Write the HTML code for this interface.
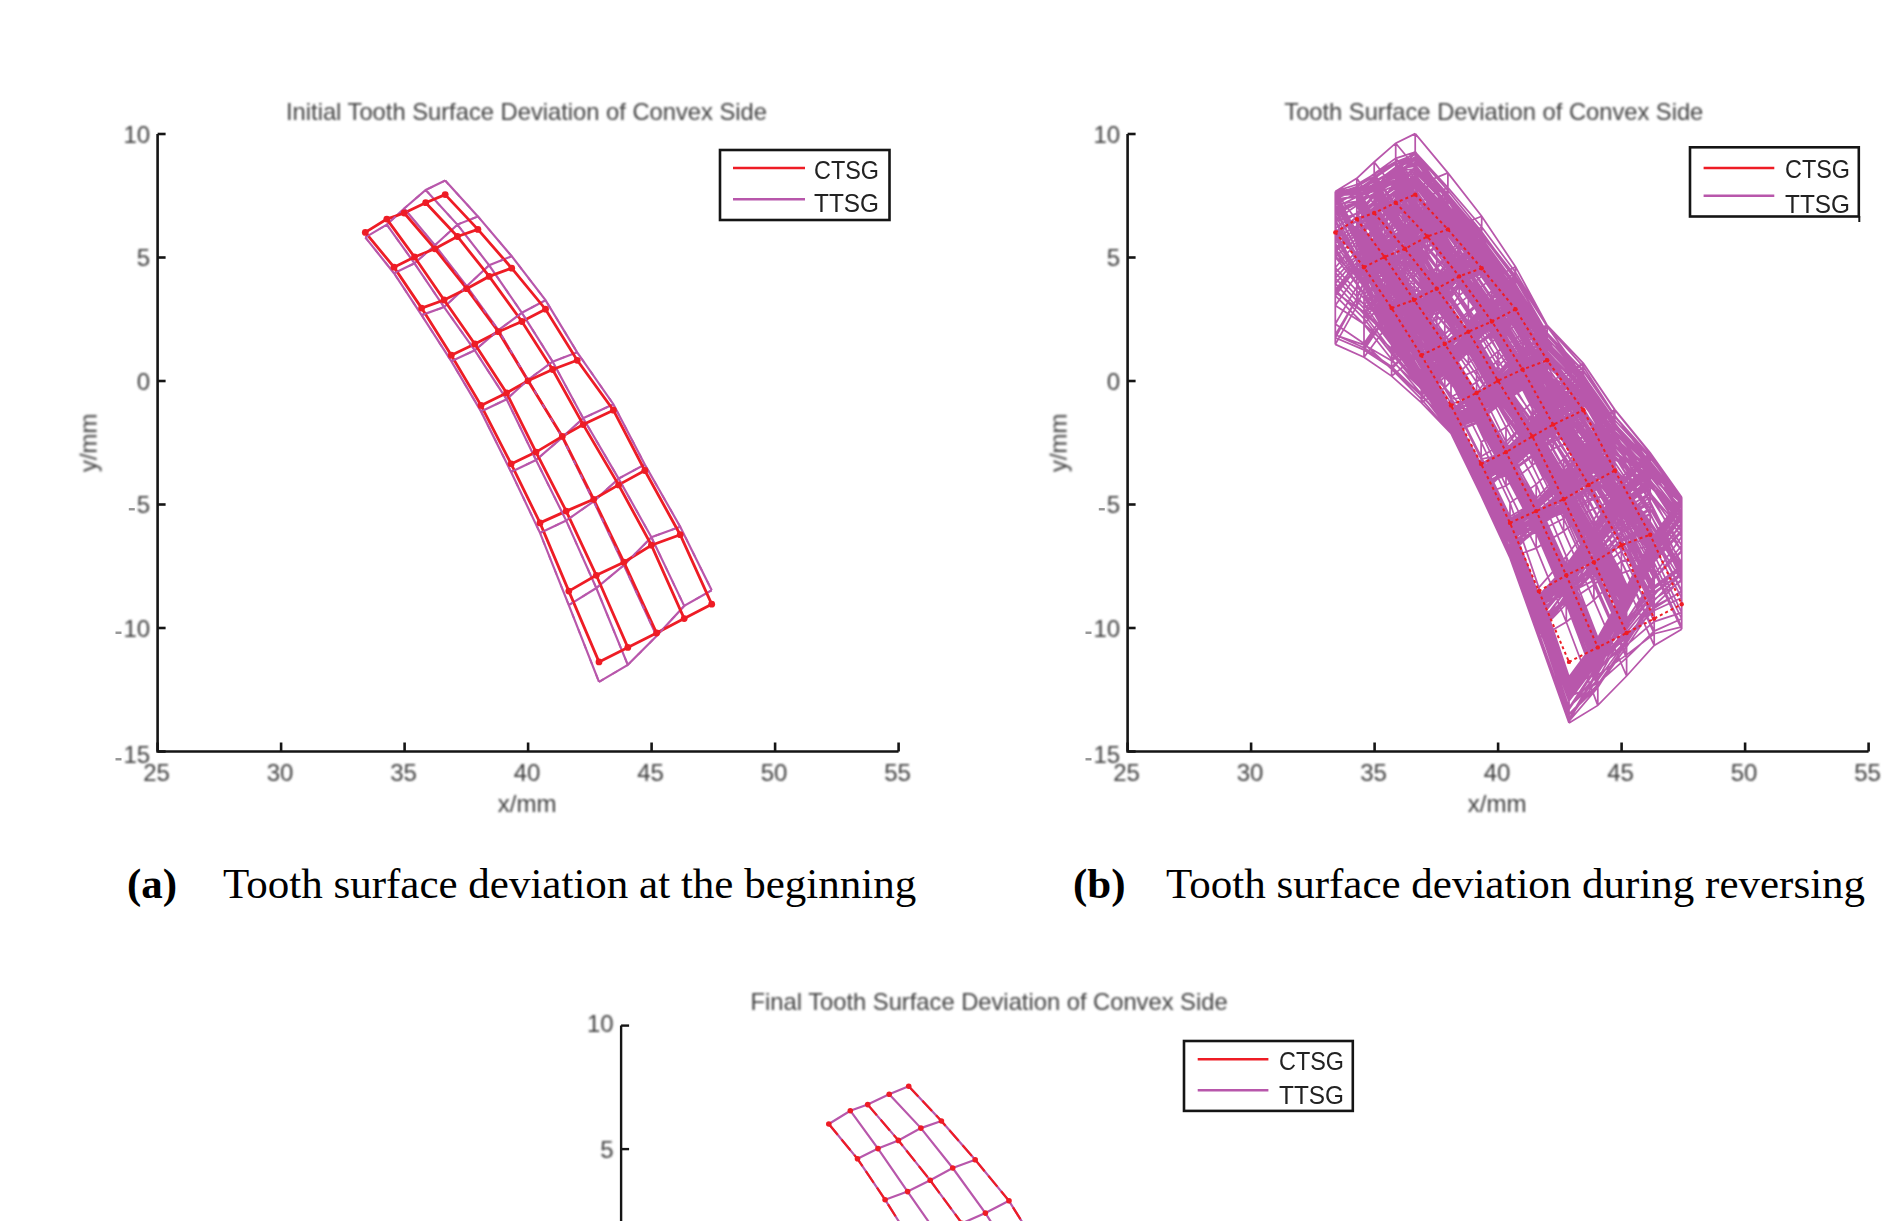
<!DOCTYPE html>
<html><head><meta charset="utf-8"><title>Tooth surface deviation</title>
<style>
html,body{margin:0;padding:0;background:#fff;}
body{width:1893px;height:1221px;overflow:hidden;position:relative;}
svg{position:absolute;left:0;top:0;}
.tk{font-family:"Liberation Sans",sans-serif;font-size:24px;fill:#3c3c3c;}
.ti{font-family:"Liberation Sans",sans-serif;font-size:24px;fill:#404040;}
.lg{font-family:"Liberation Sans",sans-serif;font-size:25px;fill:#222;}
.cap{position:absolute;font-family:"Liberation Serif",serif;font-size:43px;color:#000;white-space:nowrap;line-height:1;}
.cap b{font-weight:bold;}
</style></head>
<body>
<svg width="1893" height="1221" viewBox="0 0 1893 1221">
<defs><filter id="bl" x="-5%" y="-30%" width="110%" height="160%"><feGaussianBlur stdDeviation="0.8"/></filter><filter id="bl2" x="-5%" y="-30%" width="110%" height="160%"><feGaussianBlur stdDeviation="0.4"/></filter></defs>
<path d="M157.6,134.0 L157.6,751.5 L898.6,751.5" fill="none" stroke="#151515" stroke-width="2.6"/>
<line x1="157.6" y1="134.0" x2="165.6" y2="134.0" stroke="#151515" stroke-width="2.6"/>
<line x1="157.6" y1="257.5" x2="165.6" y2="257.5" stroke="#151515" stroke-width="2.6"/>
<line x1="157.6" y1="381.0" x2="165.6" y2="381.0" stroke="#151515" stroke-width="2.6"/>
<line x1="157.6" y1="504.5" x2="165.6" y2="504.5" stroke="#151515" stroke-width="2.6"/>
<line x1="157.6" y1="628.0" x2="165.6" y2="628.0" stroke="#151515" stroke-width="2.6"/>
<line x1="157.6" y1="751.5" x2="165.6" y2="751.5" stroke="#151515" stroke-width="2.6"/>
<line x1="157.6" y1="751.5" x2="157.6" y2="742.5" stroke="#151515" stroke-width="2.6"/>
<line x1="281.1" y1="751.5" x2="281.1" y2="742.5" stroke="#151515" stroke-width="2.6"/>
<line x1="404.6" y1="751.5" x2="404.6" y2="742.5" stroke="#151515" stroke-width="2.6"/>
<line x1="528.1" y1="751.5" x2="528.1" y2="742.5" stroke="#151515" stroke-width="2.6"/>
<line x1="651.6" y1="751.5" x2="651.6" y2="742.5" stroke="#151515" stroke-width="2.6"/>
<line x1="775.1" y1="751.5" x2="775.1" y2="742.5" stroke="#151515" stroke-width="2.6"/>
<line x1="898.6" y1="751.5" x2="898.6" y2="742.5" stroke="#151515" stroke-width="2.6"/>
<text x="150.1" y="142.5" text-anchor="end" class="tk" filter="url(#bl)">10</text>
<text x="150.1" y="266.0" text-anchor="end" class="tk" filter="url(#bl)">5</text>
<text x="150.1" y="389.5" text-anchor="end" class="tk" filter="url(#bl)">0</text>
<text x="150.1" y="513.0" text-anchor="end" class="tk" filter="url(#bl)">5</text>
<rect x="128.8" y="508.0" width="6" height="2.5" fill="#999"/>
<text x="150.1" y="636.5" text-anchor="end" class="tk" filter="url(#bl)">10</text>
<rect x="115.5" y="631.5" width="6" height="2.5" fill="#999"/>
<text x="150.1" y="763.0" text-anchor="end" class="tk" filter="url(#bl)">15</text>
<rect x="115.5" y="758.0" width="6" height="2.5" fill="#999"/>
<text x="156.6" y="781.0" text-anchor="middle" class="tk" filter="url(#bl)">25</text>
<text x="280.1" y="781.0" text-anchor="middle" class="tk" filter="url(#bl)">30</text>
<text x="403.6" y="781.0" text-anchor="middle" class="tk" filter="url(#bl)">35</text>
<text x="527.1" y="781.0" text-anchor="middle" class="tk" filter="url(#bl)">40</text>
<text x="650.6" y="781.0" text-anchor="middle" class="tk" filter="url(#bl)">45</text>
<text x="774.1" y="781.0" text-anchor="middle" class="tk" filter="url(#bl)">50</text>
<text x="897.6" y="781.0" text-anchor="middle" class="tk" filter="url(#bl)">55</text>
<text x="527.1" y="812.0" text-anchor="middle" class="tk" filter="url(#bl)">x/mm</text>
<text x="0" y="0" transform="translate(96.6,442.8) rotate(-90)" text-anchor="middle" class="tk" filter="url(#bl)">y/mm</text>
<text x="286" y="119.7" class="ti" filter="url(#bl)" textLength="481" lengthAdjust="spacingAndGlyphs">Initial Tooth Surface Deviation of Convex Side</text>
<path d="M365.3,237.4 L386.8,224.6 L404.2,208.5 L425.7,190.0 L445.2,180.6 M394.0,273.2 L414.5,263.3 L434.9,245.3 L457.4,224.6 L477.9,216.4 M421.6,315.1 L444.1,307.1 L466.7,286.2 L489.2,265.3 L511.7,256.2 M451.3,361.2 L474.8,350.3 L498.4,330.2 L521.9,312.8 L545.5,300.2 M481.0,411.4 L506.6,399.3 L528.0,379.8 L552.6,361.6 L577.2,352.3 M511.1,471.9 L536.0,460.0 L562.3,437.4 L583.2,418.3 L613.4,404.2 M540.0,532.9 L566.2,520.6 L593.7,501.3 L618.6,478.6 L644.8,464.5 M568.8,605.1 L596.3,588.0 L623.9,565.2 L651.4,537.3 L680.2,526.7 M599.0,681.9 L627.8,664.9 L656.6,636.0 L684.2,605.9 L711.7,590.2 M365.3,237.4 L394.0,273.2 L421.6,315.1 L451.3,361.2 L481.0,411.4 L511.1,471.9 L540.0,532.9 L568.8,605.1 L599.0,681.9 M386.8,224.6 L414.5,263.3 L444.1,307.1 L474.8,350.3 L506.6,399.3 L536.0,460.0 L566.2,520.6 L596.3,588.0 L627.8,664.9 M404.2,208.5 L434.9,245.3 L466.7,286.2 L498.4,330.2 L528.0,379.8 L562.3,437.4 L593.7,501.3 L623.9,565.2 L656.6,636.0 M425.7,190.0 L457.4,224.6 L489.2,265.3 L521.9,312.8 L552.6,361.6 L583.2,418.3 L618.6,478.6 L651.4,537.3 L684.2,605.9 M445.2,180.6 L477.9,216.4 L511.7,256.2 L545.5,300.2 L577.2,352.3 L613.4,404.2 L644.8,464.5 L680.2,526.7 L711.7,590.2" fill="none" stroke="#b857ab" stroke-width="2.2"/>
<path d="M365.3,232.4 L386.8,219.1 L404.2,213.0 L425.7,202.7 L445.2,194.6 M394.0,267.2 L414.5,257.0 L434.9,248.8 L457.4,236.5 L477.9,229.4 M421.6,308.1 L444.1,300.0 L466.7,288.7 L489.2,276.4 L511.7,268.2 M451.3,355.2 L474.8,344.0 L498.4,331.7 L521.9,321.5 L545.5,309.2 M481.0,405.4 L506.6,393.0 L528.0,380.8 L552.6,369.5 L577.2,360.3 M511.1,463.9 L536.0,452.1 L562.3,436.4 L583.2,424.6 L613.4,410.2 M540.0,522.9 L566.2,511.1 L593.7,499.3 L618.6,484.9 L644.8,470.5 M568.8,591.1 L596.3,575.3 L623.9,562.2 L651.4,545.2 L680.2,534.7 M599.0,661.9 L627.8,647.4 L656.6,633.0 L684.2,618.6 L711.7,604.2 M365.3,232.4 L394.0,267.2 L421.6,308.1 L451.3,355.2 L481.0,405.4 L511.1,463.9 L540.0,522.9 L568.8,591.1 L599.0,661.9 M386.8,219.1 L414.5,257.0 L444.1,300.0 L474.8,344.0 L506.6,393.0 L536.0,452.1 L566.2,511.1 L596.3,575.3 L627.8,647.4 M404.2,213.0 L434.9,248.8 L466.7,288.7 L498.4,331.7 L528.0,380.8 L562.3,436.4 L593.7,499.3 L623.9,562.2 L656.6,633.0 M425.7,202.7 L457.4,236.5 L489.2,276.4 L521.9,321.5 L552.6,369.5 L583.2,424.6 L618.6,484.9 L651.4,545.2 L684.2,618.6 M445.2,194.6 L477.9,229.4 L511.7,268.2 L545.5,309.2 L577.2,360.3 L613.4,410.2 L644.8,470.5 L680.2,534.7 L711.7,604.2" fill="none" stroke="#ee1c25" stroke-width="2.8"/>
<path d="M365.3,237.4 L386.8,224.6 L404.2,208.5 L425.7,190.0 L445.2,180.6 M394.0,273.2 L414.5,263.3 L434.9,245.3 L457.4,224.6 L477.9,216.4 M421.6,315.1 L444.1,307.1 L466.7,286.2 L489.2,265.3 L511.7,256.2 M451.3,361.2 L474.8,350.3 L498.4,330.2 L521.9,312.8 L545.5,300.2 M481.0,411.4 L506.6,399.3 L528.0,379.8 L552.6,361.6 L577.2,352.3 M511.1,471.9 L536.0,460.0 L562.3,437.4 L583.2,418.3 L613.4,404.2 M540.0,532.9 L566.2,520.6 L593.7,501.3 L618.6,478.6 L644.8,464.5 M568.8,605.1 L596.3,588.0 L623.9,565.2 L651.4,537.3 L680.2,526.7 M599.0,681.9 L627.8,664.9 L656.6,636.0 L684.2,605.9 L711.7,590.2 M365.3,237.4 L394.0,273.2 L421.6,315.1 L451.3,361.2 L481.0,411.4 L511.1,471.9 L540.0,532.9 L568.8,605.1 L599.0,681.9 M386.8,224.6 L414.5,263.3 L444.1,307.1 L474.8,350.3 L506.6,399.3 L536.0,460.0 L566.2,520.6 L596.3,588.0 L627.8,664.9 M404.2,208.5 L434.9,245.3 L466.7,286.2 L498.4,330.2 L528.0,379.8 L562.3,437.4 L593.7,501.3 L623.9,565.2 L656.6,636.0 M425.7,190.0 L457.4,224.6 L489.2,265.3 L521.9,312.8 L552.6,361.6 L583.2,418.3 L618.6,478.6 L651.4,537.3 L684.2,605.9 M445.2,180.6 L477.9,216.4 L511.7,256.2 L545.5,300.2 L577.2,352.3 L613.4,404.2 L644.8,464.5 L680.2,526.7 L711.7,590.2" fill="none" stroke="#b857ab" stroke-width="1.8" stroke-dasharray="5 11"/>
<circle cx="365.3" cy="232.4" r="3.4" fill="#ee1c25"/><circle cx="386.8" cy="219.1" r="3.4" fill="#ee1c25"/><circle cx="404.2" cy="213.0" r="3.4" fill="#ee1c25"/><circle cx="425.7" cy="202.7" r="3.4" fill="#ee1c25"/><circle cx="445.2" cy="194.6" r="3.4" fill="#ee1c25"/><circle cx="394.0" cy="267.2" r="3.4" fill="#ee1c25"/><circle cx="414.5" cy="257.0" r="3.4" fill="#ee1c25"/><circle cx="434.9" cy="248.8" r="3.4" fill="#ee1c25"/><circle cx="457.4" cy="236.5" r="3.4" fill="#ee1c25"/><circle cx="477.9" cy="229.4" r="3.4" fill="#ee1c25"/><circle cx="421.6" cy="308.1" r="3.4" fill="#ee1c25"/><circle cx="444.1" cy="300.0" r="3.4" fill="#ee1c25"/><circle cx="466.7" cy="288.7" r="3.4" fill="#ee1c25"/><circle cx="489.2" cy="276.4" r="3.4" fill="#ee1c25"/><circle cx="511.7" cy="268.2" r="3.4" fill="#ee1c25"/><circle cx="451.3" cy="355.2" r="3.4" fill="#ee1c25"/><circle cx="474.8" cy="344.0" r="3.4" fill="#ee1c25"/><circle cx="498.4" cy="331.7" r="3.4" fill="#ee1c25"/><circle cx="521.9" cy="321.5" r="3.4" fill="#ee1c25"/><circle cx="545.5" cy="309.2" r="3.4" fill="#ee1c25"/><circle cx="481.0" cy="405.4" r="3.4" fill="#ee1c25"/><circle cx="506.6" cy="393.0" r="3.4" fill="#ee1c25"/><circle cx="528.0" cy="380.8" r="3.4" fill="#ee1c25"/><circle cx="552.6" cy="369.5" r="3.4" fill="#ee1c25"/><circle cx="577.2" cy="360.3" r="3.4" fill="#ee1c25"/><circle cx="511.1" cy="463.9" r="3.4" fill="#ee1c25"/><circle cx="536.0" cy="452.1" r="3.4" fill="#ee1c25"/><circle cx="562.3" cy="436.4" r="3.4" fill="#ee1c25"/><circle cx="583.2" cy="424.6" r="3.4" fill="#ee1c25"/><circle cx="613.4" cy="410.2" r="3.4" fill="#ee1c25"/><circle cx="540.0" cy="522.9" r="3.4" fill="#ee1c25"/><circle cx="566.2" cy="511.1" r="3.4" fill="#ee1c25"/><circle cx="593.7" cy="499.3" r="3.4" fill="#ee1c25"/><circle cx="618.6" cy="484.9" r="3.4" fill="#ee1c25"/><circle cx="644.8" cy="470.5" r="3.4" fill="#ee1c25"/><circle cx="568.8" cy="591.1" r="3.4" fill="#ee1c25"/><circle cx="596.3" cy="575.3" r="3.4" fill="#ee1c25"/><circle cx="623.9" cy="562.2" r="3.4" fill="#ee1c25"/><circle cx="651.4" cy="545.2" r="3.4" fill="#ee1c25"/><circle cx="680.2" cy="534.7" r="3.4" fill="#ee1c25"/><circle cx="599.0" cy="661.9" r="3.4" fill="#ee1c25"/><circle cx="627.8" cy="647.4" r="3.4" fill="#ee1c25"/><circle cx="656.6" cy="633.0" r="3.4" fill="#ee1c25"/><circle cx="684.2" cy="618.6" r="3.4" fill="#ee1c25"/><circle cx="711.7" cy="604.2" r="3.4" fill="#ee1c25"/>
<rect x="720.0" y="150.0" width="169.5" height="70.0" fill="#fff" stroke="#151515" stroke-width="2.6"/>
<line x1="733" y1="168" x2="805" y2="168" stroke="#ee1c25" stroke-width="2.5"/>
<line x1="733" y1="199.2" x2="805" y2="199.2" stroke="#b857ab" stroke-width="2.5"/>
<text x="814" y="178.6" class="lg" filter="url(#bl2)" textLength="65" lengthAdjust="spacingAndGlyphs">CTSG</text>
<text x="814" y="212.4" class="lg" filter="url(#bl2)" textLength="65" lengthAdjust="spacingAndGlyphs">TTSG</text>
<path d="M1127.6,134.0 L1127.6,751.5 L1868.6,751.5" fill="none" stroke="#151515" stroke-width="2.6"/>
<line x1="1127.6" y1="134.0" x2="1135.6" y2="134.0" stroke="#151515" stroke-width="2.6"/>
<line x1="1127.6" y1="257.5" x2="1135.6" y2="257.5" stroke="#151515" stroke-width="2.6"/>
<line x1="1127.6" y1="381.0" x2="1135.6" y2="381.0" stroke="#151515" stroke-width="2.6"/>
<line x1="1127.6" y1="504.5" x2="1135.6" y2="504.5" stroke="#151515" stroke-width="2.6"/>
<line x1="1127.6" y1="628.0" x2="1135.6" y2="628.0" stroke="#151515" stroke-width="2.6"/>
<line x1="1127.6" y1="751.5" x2="1135.6" y2="751.5" stroke="#151515" stroke-width="2.6"/>
<line x1="1127.6" y1="751.5" x2="1127.6" y2="742.5" stroke="#151515" stroke-width="2.6"/>
<line x1="1251.1" y1="751.5" x2="1251.1" y2="742.5" stroke="#151515" stroke-width="2.6"/>
<line x1="1374.6" y1="751.5" x2="1374.6" y2="742.5" stroke="#151515" stroke-width="2.6"/>
<line x1="1498.1" y1="751.5" x2="1498.1" y2="742.5" stroke="#151515" stroke-width="2.6"/>
<line x1="1621.6" y1="751.5" x2="1621.6" y2="742.5" stroke="#151515" stroke-width="2.6"/>
<line x1="1745.1" y1="751.5" x2="1745.1" y2="742.5" stroke="#151515" stroke-width="2.6"/>
<line x1="1868.6" y1="751.5" x2="1868.6" y2="742.5" stroke="#151515" stroke-width="2.6"/>
<text x="1120.1" y="142.5" text-anchor="end" class="tk" filter="url(#bl)">10</text>
<text x="1120.1" y="266.0" text-anchor="end" class="tk" filter="url(#bl)">5</text>
<text x="1120.1" y="389.5" text-anchor="end" class="tk" filter="url(#bl)">0</text>
<text x="1120.1" y="513.0" text-anchor="end" class="tk" filter="url(#bl)">5</text>
<rect x="1098.8" y="508.0" width="6" height="2.5" fill="#999"/>
<text x="1120.1" y="636.5" text-anchor="end" class="tk" filter="url(#bl)">10</text>
<rect x="1085.5" y="631.5" width="6" height="2.5" fill="#999"/>
<text x="1120.1" y="763.0" text-anchor="end" class="tk" filter="url(#bl)">15</text>
<rect x="1085.5" y="758.0" width="6" height="2.5" fill="#999"/>
<text x="1126.6" y="781.0" text-anchor="middle" class="tk" filter="url(#bl)">25</text>
<text x="1250.1" y="781.0" text-anchor="middle" class="tk" filter="url(#bl)">30</text>
<text x="1373.6" y="781.0" text-anchor="middle" class="tk" filter="url(#bl)">35</text>
<text x="1497.1" y="781.0" text-anchor="middle" class="tk" filter="url(#bl)">40</text>
<text x="1620.6" y="781.0" text-anchor="middle" class="tk" filter="url(#bl)">45</text>
<text x="1744.1" y="781.0" text-anchor="middle" class="tk" filter="url(#bl)">50</text>
<text x="1867.6" y="781.0" text-anchor="middle" class="tk" filter="url(#bl)">55</text>
<text x="1497.1" y="812.0" text-anchor="middle" class="tk" filter="url(#bl)">x/mm</text>
<text x="0" y="0" transform="translate(1066.6,442.8) rotate(-90)" text-anchor="middle" class="tk" filter="url(#bl)">y/mm</text>
<text x="1284.3" y="119.6" class="ti" filter="url(#bl)" textLength="419" lengthAdjust="spacingAndGlyphs">Tooth Surface Deviation of Convex Side</text>
<path d="M1335.3,191.4 L1356.8,178.3 L1374.2,162.0 L1395.7,143.2 L1415.2,133.6 M1364.0,230.2 L1384.5,220.2 L1404.9,202.1 L1427.4,181.2 L1447.9,172.9 M1391.6,275.1 L1414.1,267.1 L1436.7,246.2 L1459.2,225.3 L1481.7,216.2 M1421.3,326.2 L1444.8,315.7 L1468.4,295.9 L1491.9,278.9 L1515.5,266.7 M1451.0,381.4 L1476.6,370.1 L1498.0,351.3 L1522.6,333.9 L1547.2,325.3 M1481.1,441.9 L1506.0,427.2 L1532.3,401.9 L1553.2,380.1 L1583.4,363.2 M1510.0,502.9 L1536.2,484.4 L1563.7,458.8 L1588.6,429.8 L1614.8,409.5 M1538.8,587.6 L1566.3,556.4 L1593.9,519.5 L1621.4,477.4 L1650.2,452.7 M1569.0,676.9 L1597.8,637.9 L1626.6,587.0 L1654.2,534.9 L1681.7,497.2 M1335.3,191.4 L1364.0,230.2 L1391.6,275.1 L1421.3,326.2 L1451.0,381.4 L1481.1,441.9 L1510.0,502.9 L1538.8,587.6 L1569.0,676.9 M1356.8,178.3 L1384.5,220.2 L1414.1,267.1 L1444.8,315.7 L1476.6,370.1 L1506.0,427.2 L1536.2,484.4 L1566.3,556.4 L1597.8,637.9 M1374.2,162.0 L1404.9,202.1 L1436.7,246.2 L1468.4,295.9 L1498.0,351.3 L1532.3,401.9 L1563.7,458.8 L1593.9,519.5 L1626.6,587.0 M1395.7,143.2 L1427.4,181.2 L1459.2,225.3 L1491.9,278.9 L1522.6,333.9 L1553.2,380.1 L1588.6,429.8 L1621.4,477.4 L1654.2,534.9 M1415.2,133.6 L1447.9,172.9 L1481.7,216.2 L1515.5,266.7 L1547.2,325.3 L1583.4,363.2 L1614.8,409.5 L1650.2,452.7 L1681.7,497.2 M1335.3,344.4 L1356.8,306.1 L1374.2,264.5 L1395.7,220.5 L1415.2,185.6 M1364.0,357.2 L1384.5,329.4 L1404.9,293.6 L1427.4,255.0 L1447.9,228.9 M1391.6,376.1 L1414.1,357.9 L1436.7,326.7 L1459.2,295.5 L1481.7,276.2 M1421.3,402.7 L1444.8,387.7 L1468.4,363.4 L1491.9,341.9 L1515.5,325.2 M1451.0,433.4 L1476.6,423.3 L1498.0,405.8 L1522.6,389.6 L1547.2,382.3 M1481.1,495.4 L1506.0,485.8 L1532.3,465.4 L1553.2,448.6 L1583.4,436.7 M1510.0,557.9 L1536.2,548.1 L1563.7,531.3 L1588.6,511.1 L1614.8,499.5 M1538.8,638.1 L1566.3,622.0 L1593.9,600.2 L1621.4,573.3 L1650.2,563.7 M1569.0,722.9 L1597.8,705.4 L1626.6,676.0 L1654.2,645.4 L1681.7,629.2 M1335.3,344.4 L1364.0,357.2 L1391.6,376.1 L1421.3,402.7 L1451.0,433.4 L1481.1,495.4 L1510.0,557.9 L1538.8,638.1 L1569.0,722.9 M1356.8,306.1 L1384.5,329.4 L1414.1,357.9 L1444.8,387.7 L1476.6,423.3 L1506.0,485.8 L1536.2,548.1 L1566.3,622.0 L1597.8,705.4 M1374.2,264.5 L1404.9,293.6 L1436.7,326.7 L1468.4,363.4 L1498.0,405.8 L1532.3,465.4 L1563.7,531.3 L1593.9,600.2 L1626.6,676.0 M1395.7,220.5 L1427.4,255.0 L1459.2,295.5 L1491.9,341.9 L1522.6,389.6 L1553.2,448.6 L1588.6,511.1 L1621.4,573.3 L1654.2,645.4 M1415.2,185.6 L1447.9,228.9 L1481.7,276.2 L1515.5,325.2 L1547.2,382.3 L1583.4,436.7 L1614.8,499.5 L1650.2,563.7 L1681.7,629.2 M1335.3,204.2 L1356.8,193.1 L1374.2,178.8 L1395.7,162.0 L1415.2,154.3 M1364.0,253.0 L1384.5,243.8 L1404.9,226.5 L1427.4,206.5 L1447.9,199.0 M1391.6,308.0 L1414.1,299.6 L1436.7,278.3 L1459.2,257.0 L1481.7,247.6 M1421.3,357.4 L1444.8,347.6 L1468.4,328.6 L1491.9,312.3 L1515.5,300.8 M1451.0,410.9 L1476.6,401.4 L1498.0,384.5 L1522.6,368.8 L1547.2,362.1 M1481.1,470.3 L1506.0,457.2 L1532.3,433.5 L1553.2,413.2 L1583.4,398.0 M1510.0,530.1 L1536.2,513.0 L1563.7,488.8 L1588.6,461.2 L1614.8,442.2 M1538.8,611.0 L1566.3,579.3 L1593.9,542.0 L1621.4,499.5 L1650.2,474.4 M1569.0,696.4 L1597.8,655.2 L1626.6,602.1 L1654.2,547.8 L1681.7,507.9 M1335.3,204.2 L1364.0,253.0 L1391.6,308.0 L1421.3,357.4 L1451.0,410.9 L1481.1,470.3 L1510.0,530.1 L1538.8,611.0 L1569.0,696.4 M1356.8,193.1 L1384.5,243.8 L1414.1,299.6 L1444.8,347.6 L1476.6,401.4 L1506.0,457.2 L1536.2,513.0 L1566.3,579.3 L1597.8,655.2 M1374.2,178.8 L1404.9,226.5 L1436.7,278.3 L1468.4,328.6 L1498.0,384.5 L1532.3,433.5 L1563.7,488.8 L1593.9,542.0 L1626.6,602.1 M1395.7,162.0 L1427.4,206.5 L1459.2,257.0 L1491.9,312.3 L1522.6,368.8 L1553.2,413.2 L1588.6,461.2 L1621.4,499.5 L1654.2,547.8 M1415.2,154.3 L1447.9,199.0 L1481.7,247.6 L1515.5,300.8 L1547.2,362.1 L1583.4,398.0 L1614.8,442.2 L1650.2,474.4 L1681.7,507.9 M1335.3,191.7 L1356.8,188.3 L1374.2,181.6 L1395.7,172.4 L1415.2,172.4 M1364.0,251.0 L1384.5,244.0 L1404.9,228.9 L1427.4,211.1 L1447.9,205.8 M1391.6,316.4 L1414.1,304.8 L1436.7,280.4 L1459.2,255.9 L1481.7,243.2 M1421.3,368.1 L1444.8,351.6 L1468.4,325.9 L1491.9,302.9 L1515.5,284.6 M1451.0,423.8 L1476.6,404.1 L1498.0,376.9 L1522.6,351.1 L1547.2,334.1 M1481.1,474.3 L1506.0,453.6 L1532.3,422.1 L1553.2,394.1 L1583.4,371.2 M1510.0,525.4 L1536.2,503.0 L1563.7,473.6 L1588.6,440.8 L1614.8,416.6 M1538.8,598.9 L1566.3,565.8 L1593.9,526.9 L1621.4,483.0 L1650.2,456.4 M1569.0,677.0 L1597.8,638.0 L1626.6,587.2 L1654.2,535.2 L1681.7,497.5 M1335.3,191.7 L1364.0,251.0 L1391.6,316.4 L1421.3,368.1 L1451.0,423.8 L1481.1,474.3 L1510.0,525.4 L1538.8,598.9 L1569.0,677.0 M1356.8,188.3 L1384.5,244.0 L1414.1,304.8 L1444.8,351.6 L1476.6,404.1 L1506.0,453.6 L1536.2,503.0 L1566.3,565.8 L1597.8,638.0 M1374.2,181.6 L1404.9,228.9 L1436.7,280.4 L1468.4,325.9 L1498.0,376.9 L1532.3,422.1 L1563.7,473.6 L1593.9,526.9 L1626.6,587.2 M1395.7,172.4 L1427.4,211.1 L1459.2,255.9 L1491.9,302.9 L1522.6,351.1 L1553.2,394.1 L1588.6,440.8 L1621.4,483.0 L1654.2,535.2 M1415.2,172.4 L1447.9,205.8 L1481.7,243.2 L1515.5,284.6 L1547.2,334.1 L1583.4,371.2 L1614.8,416.6 L1650.2,456.4 L1681.7,497.5 M1335.3,214.6 L1356.8,203.5 L1374.2,189.0 L1395.7,172.1 L1415.2,164.4 M1364.0,269.5 L1384.5,258.4 L1404.9,239.2 L1427.4,217.4 L1447.9,208.0 M1391.6,330.5 L1414.1,318.5 L1436.7,293.6 L1459.2,268.7 L1481.7,255.6 M1421.3,378.4 L1444.8,364.9 L1468.4,342.2 L1491.9,322.2 L1515.5,307.0 M1451.0,430.5 L1476.6,417.2 L1498.0,396.4 L1522.6,377.0 L1547.2,366.4 M1481.1,479.7 L1506.0,469.7 L1532.3,449.0 L1553.2,431.8 L1583.4,419.7 M1510.0,529.3 L1536.2,522.1 L1563.7,507.9 L1588.6,490.3 L1614.8,481.3 M1538.8,601.2 L1566.3,589.9 L1593.9,573.0 L1621.4,551.0 L1650.2,546.3 M1569.0,677.6 L1597.8,667.3 L1626.6,645.1 L1654.2,621.6 L1681.7,612.6 M1335.3,214.6 L1364.0,269.5 L1391.6,330.5 L1421.3,378.4 L1451.0,430.5 L1481.1,479.7 L1510.0,529.3 L1538.8,601.2 L1569.0,677.6 M1356.8,203.5 L1384.5,258.4 L1414.1,318.5 L1444.8,364.9 L1476.6,417.2 L1506.0,469.7 L1536.2,522.1 L1566.3,589.9 L1597.8,667.3 M1374.2,189.0 L1404.9,239.2 L1436.7,293.6 L1468.4,342.2 L1498.0,396.4 L1532.3,449.0 L1563.7,507.9 L1593.9,573.0 L1626.6,645.1 M1395.7,172.1 L1427.4,217.4 L1459.2,268.7 L1491.9,322.2 L1522.6,377.0 L1553.2,431.8 L1588.6,490.3 L1621.4,551.0 L1654.2,621.6 M1415.2,164.4 L1447.9,208.0 L1481.7,255.6 L1515.5,307.0 L1547.2,366.4 L1583.4,419.7 L1614.8,481.3 L1650.2,546.3 L1681.7,612.6 M1335.3,237.1 L1356.8,217.0 L1374.2,193.7 L1395.7,168.0 L1415.2,151.4 M1364.0,279.7 L1384.5,264.2 L1404.9,240.5 L1427.4,214.2 L1447.9,200.4 M1391.6,328.4 L1414.1,316.4 L1436.7,291.5 L1459.2,266.5 L1481.7,253.4 M1421.3,372.6 L1444.8,361.5 L1468.4,341.2 L1491.9,323.7 L1515.5,310.9 M1451.0,420.8 L1476.6,412.4 L1498.0,396.6 L1522.6,382.1 L1547.2,376.5 M1481.1,485.1 L1506.0,471.4 L1532.3,446.9 L1553.2,426.0 L1583.4,410.0 M1510.0,549.9 L1536.2,530.3 L1563.7,503.6 L1588.6,473.5 L1614.8,452.0 M1538.8,633.0 L1566.3,596.5 L1593.9,554.3 L1621.4,506.9 L1650.2,476.9 M1569.0,720.7 L1597.8,672.3 L1626.6,611.9 L1654.2,550.3 L1681.7,503.2 M1335.3,237.1 L1364.0,279.7 L1391.6,328.4 L1421.3,372.6 L1451.0,420.8 L1481.1,485.1 L1510.0,549.9 L1538.8,633.0 L1569.0,720.7 M1356.8,217.0 L1384.5,264.2 L1414.1,316.4 L1444.8,361.5 L1476.6,412.4 L1506.0,471.4 L1536.2,530.3 L1566.3,596.5 L1597.8,672.3 M1374.2,193.7 L1404.9,240.5 L1436.7,291.5 L1468.4,341.2 L1498.0,396.6 L1532.3,446.9 L1563.7,503.6 L1593.9,554.3 L1626.6,611.9 M1395.7,168.0 L1427.4,214.2 L1459.2,266.5 L1491.9,323.7 L1522.6,382.1 L1553.2,426.0 L1588.6,473.5 L1621.4,506.9 L1654.2,550.3 M1415.2,151.4 L1447.9,200.4 L1481.7,253.4 L1515.5,310.9 L1547.2,376.5 L1583.4,410.0 L1614.8,452.0 L1650.2,476.9 L1681.7,503.2 M1335.3,193.6 L1356.8,192.1 L1374.2,187.3 L1395.7,180.1 L1415.2,182.0 M1364.0,244.9 L1384.5,241.9 L1404.9,230.8 L1427.4,216.9 L1447.9,215.6 M1391.6,302.4 L1414.1,296.8 L1436.7,278.3 L1459.2,259.9 L1481.7,253.2 M1421.3,353.5 L1444.8,343.0 L1468.4,323.2 L1491.9,306.1 L1515.5,293.8 M1451.0,408.8 L1476.6,394.9 L1498.0,373.6 L1522.6,353.6 L1547.2,342.5 M1481.1,464.1 L1506.0,449.2 L1532.3,423.6 L1553.2,401.5 L1583.4,384.4 M1510.0,520.0 L1536.2,503.5 L1563.7,479.9 L1588.6,453.0 L1614.8,434.7 M1538.8,598.3 L1566.3,571.8 L1593.9,539.6 L1621.4,502.3 L1650.2,482.3 M1569.0,681.3 L1597.8,649.7 L1626.6,606.2 L1654.2,561.5 L1681.7,531.3 M1335.3,193.6 L1364.0,244.9 L1391.6,302.4 L1421.3,353.5 L1451.0,408.8 L1481.1,464.1 L1510.0,520.0 L1538.8,598.3 L1569.0,681.3 M1356.8,192.1 L1384.5,241.9 L1414.1,296.8 L1444.8,343.0 L1476.6,394.9 L1506.0,449.2 L1536.2,503.5 L1566.3,571.8 L1597.8,649.7 M1374.2,187.3 L1404.9,230.8 L1436.7,278.3 L1468.4,323.2 L1498.0,373.6 L1532.3,423.6 L1563.7,479.9 L1593.9,539.6 L1626.6,606.2 M1395.7,180.1 L1427.4,216.9 L1459.2,259.9 L1491.9,306.1 L1522.6,353.6 L1553.2,401.5 L1588.6,453.0 L1621.4,502.3 L1654.2,561.5 M1415.2,182.0 L1447.9,215.6 L1481.7,253.2 L1515.5,293.8 L1547.2,342.5 L1583.4,384.4 L1614.8,434.7 L1650.2,482.3 L1681.7,531.3 M1335.3,248.5 L1356.8,226.1 L1374.2,200.4 L1395.7,172.3 L1415.2,153.3 M1364.0,287.0 L1384.5,267.1 L1404.9,239.2 L1427.4,208.6 L1447.9,190.5 M1391.6,331.5 L1414.1,313.3 L1436.7,282.2 L1459.2,251.1 L1481.7,231.8 M1421.3,373.7 L1444.8,354.3 L1468.4,325.6 L1491.9,299.6 L1515.5,278.4 M1451.0,420.1 L1476.6,401.0 L1498.0,374.6 L1522.6,349.5 L1547.2,333.2 M1481.1,475.6 L1506.0,454.4 L1532.3,422.5 L1553.2,394.1 L1583.4,370.7 M1510.0,531.6 L1536.2,507.7 L1563.7,476.7 L1588.6,442.4 L1614.8,416.6 M1538.8,608.8 L1566.3,573.5 L1593.9,532.5 L1621.4,486.4 L1650.2,457.5 M1569.0,690.7 L1597.8,648.9 L1626.6,595.2 L1654.2,540.3 L1681.7,499.7 M1335.3,248.5 L1364.0,287.0 L1391.6,331.5 L1421.3,373.7 L1451.0,420.1 L1481.1,475.6 L1510.0,531.6 L1538.8,608.8 L1569.0,690.7 M1356.8,226.1 L1384.5,267.1 L1414.1,313.3 L1444.8,354.3 L1476.6,401.0 L1506.0,454.4 L1536.2,507.7 L1566.3,573.5 L1597.8,648.9 M1374.2,200.4 L1404.9,239.2 L1436.7,282.2 L1468.4,325.6 L1498.0,374.6 L1532.3,422.5 L1563.7,476.7 L1593.9,532.5 L1626.6,595.2 M1395.7,172.3 L1427.4,208.6 L1459.2,251.1 L1491.9,299.6 L1522.6,349.5 L1553.2,394.1 L1588.6,442.4 L1621.4,486.4 L1654.2,540.3 M1415.2,153.3 L1447.9,190.5 L1481.7,231.8 L1515.5,278.4 L1547.2,333.2 L1583.4,370.7 L1614.8,416.6 L1650.2,457.5 L1681.7,499.7 M1335.3,257.0 L1356.8,238.3 L1374.2,216.3 L1395.7,192.0 L1415.2,176.7 M1364.0,293.4 L1384.5,278.2 L1404.9,254.9 L1427.4,229.0 L1447.9,215.5 M1391.6,335.9 L1414.1,323.2 L1436.7,297.6 L1459.2,272.1 L1481.7,258.3 M1421.3,376.7 L1444.8,362.9 L1468.4,339.9 L1491.9,319.6 L1515.5,304.1 M1451.0,421.7 L1476.6,408.5 L1498.0,387.8 L1522.6,368.5 L1547.2,358.1 M1481.1,474.1 L1506.0,459.0 L1532.3,433.2 L1553.2,410.9 L1583.4,393.6 M1510.0,526.9 L1536.2,509.4 L1563.7,484.8 L1588.6,456.9 L1614.8,437.6 M1538.8,601.9 L1566.3,571.4 L1593.9,535.2 L1621.4,494.0 L1650.2,470.0 M1569.0,681.4 L1597.8,642.9 L1626.6,592.5 L1654.2,540.9 L1681.7,503.7 M1335.3,257.0 L1364.0,293.4 L1391.6,335.9 L1421.3,376.7 L1451.0,421.7 L1481.1,474.1 L1510.0,526.9 L1538.8,601.9 L1569.0,681.4 M1356.8,238.3 L1384.5,278.2 L1414.1,323.2 L1444.8,362.9 L1476.6,408.5 L1506.0,459.0 L1536.2,509.4 L1566.3,571.4 L1597.8,642.9 M1374.2,216.3 L1404.9,254.9 L1436.7,297.6 L1468.4,339.9 L1498.0,387.8 L1532.3,433.2 L1563.7,484.8 L1593.9,535.2 L1626.6,592.5 M1395.7,192.0 L1427.4,229.0 L1459.2,272.1 L1491.9,319.6 L1522.6,368.5 L1553.2,410.9 L1588.6,456.9 L1621.4,494.0 L1654.2,540.9 M1415.2,176.7 L1447.9,215.5 L1481.7,258.3 L1515.5,304.1 L1547.2,358.1 L1583.4,393.6 L1614.8,437.6 L1650.2,470.0 L1681.7,503.7 M1335.3,283.6 L1356.8,258.2 L1374.2,229.5 L1395.7,198.4 L1415.2,176.4 M1364.0,314.2 L1384.5,294.0 L1404.9,265.7 L1427.4,234.7 L1447.9,216.2 M1391.6,350.9 L1414.1,334.9 L1436.7,306.0 L1459.2,277.1 L1481.7,260.0 M1421.3,387.4 L1444.8,371.6 L1468.4,346.6 L1491.9,324.3 L1515.5,306.8 M1451.0,428.1 L1476.6,414.2 L1498.0,392.8 L1522.6,372.8 L1547.2,361.6 M1481.1,478.4 L1506.0,466.8 L1532.3,444.5 L1553.2,425.6 L1583.4,411.8 M1510.0,529.2 L1536.2,519.3 L1563.7,502.4 L1588.6,482.1 L1614.8,470.4 M1538.8,602.1 L1566.3,586.7 L1593.9,565.6 L1621.4,539.4 L1650.2,530.4 M1569.0,679.6 L1597.8,663.6 L1626.6,635.7 L1654.2,606.5 L1681.7,591.8 M1335.3,283.6 L1364.0,314.2 L1391.6,350.9 L1421.3,387.4 L1451.0,428.1 L1481.1,478.4 L1510.0,529.2 L1538.8,602.1 L1569.0,679.6 M1356.8,258.2 L1384.5,294.0 L1414.1,334.9 L1444.8,371.6 L1476.6,414.2 L1506.0,466.8 L1536.2,519.3 L1566.3,586.7 L1597.8,663.6 M1374.2,229.5 L1404.9,265.7 L1436.7,306.0 L1468.4,346.6 L1498.0,392.8 L1532.3,444.5 L1563.7,502.4 L1593.9,565.6 L1626.6,635.7 M1395.7,198.4 L1427.4,234.7 L1459.2,277.1 L1491.9,324.3 L1522.6,372.8 L1553.2,425.6 L1588.6,482.1 L1621.4,539.4 L1654.2,606.5 M1415.2,176.4 L1447.9,216.2 L1481.7,260.0 L1515.5,306.8 L1547.2,361.6 L1583.4,411.8 L1614.8,470.4 L1650.2,530.4 L1681.7,591.8 M1335.3,267.8 L1356.8,241.8 L1374.2,212.5 L1395.7,180.8 L1415.2,158.2 M1364.0,298.4 L1384.5,278.2 L1404.9,249.9 L1427.4,218.9 L1447.9,200.5 M1391.6,335.1 L1414.1,319.7 L1436.7,291.4 L1459.2,263.2 L1481.7,246.7 M1421.3,374.1 L1444.8,359.3 L1468.4,335.3 L1491.9,313.9 L1515.5,297.4 M1451.0,417.2 L1476.6,404.6 L1498.0,384.7 L1522.6,366.0 L1547.2,356.3 M1481.1,482.5 L1506.0,467.4 L1532.3,441.6 L1553.2,419.4 L1583.4,402.1 M1510.0,548.2 L1536.2,530.1 L1563.7,504.9 L1588.6,476.4 L1614.8,456.4 M1538.8,632.4 L1566.3,604.0 L1593.9,570.0 L1621.4,530.9 L1650.2,509.1 M1569.0,721.1 L1597.8,687.5 L1626.6,642.0 L1654.2,595.3 L1681.7,563.0 M1335.3,267.8 L1364.0,298.4 L1391.6,335.1 L1421.3,374.1 L1451.0,417.2 L1481.1,482.5 L1510.0,548.2 L1538.8,632.4 L1569.0,721.1 M1356.8,241.8 L1384.5,278.2 L1414.1,319.7 L1444.8,359.3 L1476.6,404.6 L1506.0,467.4 L1536.2,530.1 L1566.3,604.0 L1597.8,687.5 M1374.2,212.5 L1404.9,249.9 L1436.7,291.4 L1468.4,335.3 L1498.0,384.7 L1532.3,441.6 L1563.7,504.9 L1593.9,570.0 L1626.6,642.0 M1395.7,180.8 L1427.4,218.9 L1459.2,263.2 L1491.9,313.9 L1522.6,366.0 L1553.2,419.4 L1588.6,476.4 L1621.4,530.9 L1654.2,595.3 M1415.2,158.2 L1447.9,200.5 L1481.7,246.7 L1515.5,297.4 L1547.2,356.3 L1583.4,402.1 L1614.8,456.4 L1650.2,509.1 L1681.7,563.0 M1335.3,193.8 L1356.8,191.5 L1374.2,185.8 L1395.7,177.7 L1415.2,178.8 M1364.0,252.2 L1384.5,248.7 L1404.9,237.1 L1427.4,222.7 L1447.9,220.9 M1391.6,316.6 L1414.1,311.0 L1436.7,292.4 L1459.2,273.9 L1481.7,267.1 M1421.3,368.0 L1444.8,359.3 L1468.4,341.4 L1491.9,326.2 L1515.5,315.8 M1451.0,423.4 L1476.6,413.3 L1498.0,395.9 L1522.6,379.8 L1547.2,372.5 M1481.1,474.0 L1506.0,463.3 L1532.3,441.9 L1553.2,424.0 L1583.4,411.1 M1510.0,525.1 L1536.2,513.1 L1563.7,494.2 L1588.6,471.8 L1614.8,458.0 M1538.8,598.8 L1566.3,574.9 L1593.9,545.3 L1621.4,510.7 L1650.2,493.3 M1569.0,677.0 L1597.8,646.2 L1626.6,603.4 L1654.2,559.5 L1681.7,530.0 M1335.3,193.8 L1364.0,252.2 L1391.6,316.6 L1421.3,368.0 L1451.0,423.4 L1481.1,474.0 L1510.0,525.1 L1538.8,598.8 L1569.0,677.0 M1356.8,191.5 L1384.5,248.7 L1414.1,311.0 L1444.8,359.3 L1476.6,413.3 L1506.0,463.3 L1536.2,513.1 L1566.3,574.9 L1597.8,646.2 M1374.2,185.8 L1404.9,237.1 L1436.7,292.4 L1468.4,341.4 L1498.0,395.9 L1532.3,441.9 L1563.7,494.2 L1593.9,545.3 L1626.6,603.4 M1395.7,177.7 L1427.4,222.7 L1459.2,273.9 L1491.9,326.2 L1522.6,379.8 L1553.2,424.0 L1588.6,471.8 L1621.4,510.7 L1654.2,559.5 M1415.2,178.8 L1447.9,220.9 L1481.7,267.1 L1515.5,315.8 L1547.2,372.5 L1583.4,411.1 L1614.8,458.0 L1650.2,493.3 L1681.7,530.0 M1335.3,305.6 L1356.8,274.8 L1374.2,240.8 L1395.7,204.3 L1415.2,176.9 M1364.0,324.0 L1384.5,301.6 L1404.9,271.1 L1427.4,238.0 L1447.9,217.3 M1391.6,348.5 L1414.1,333.5 L1436.7,305.6 L1459.2,277.8 L1481.7,261.7 M1421.3,381.2 L1444.8,367.5 L1468.4,344.6 L1491.9,324.3 L1515.5,308.9 M1451.0,418.1 L1476.6,407.3 L1498.0,389.1 L1522.6,372.2 L1547.2,364.2 M1481.1,476.6 L1506.0,462.8 L1532.3,438.3 L1553.2,417.2 L1583.4,401.2 M1510.0,535.6 L1536.2,518.2 L1563.7,493.7 L1588.6,465.8 L1614.8,446.6 M1538.8,615.1 L1566.3,583.9 L1593.9,547.1 L1621.4,505.1 L1650.2,480.5 M1569.0,699.1 L1597.8,659.2 L1626.6,607.4 L1654.2,554.4 L1681.7,515.8 M1335.3,305.6 L1364.0,324.0 L1391.6,348.5 L1421.3,381.2 L1451.0,418.1 L1481.1,476.6 L1510.0,535.6 L1538.8,615.1 L1569.0,699.1 M1356.8,274.8 L1384.5,301.6 L1414.1,333.5 L1444.8,367.5 L1476.6,407.3 L1506.0,462.8 L1536.2,518.2 L1566.3,583.9 L1597.8,659.2 M1374.2,240.8 L1404.9,271.1 L1436.7,305.6 L1468.4,344.6 L1498.0,389.1 L1532.3,438.3 L1563.7,493.7 L1593.9,547.1 L1626.6,607.4 M1395.7,204.3 L1427.4,238.0 L1459.2,277.8 L1491.9,324.3 L1522.6,372.2 L1553.2,417.2 L1588.6,465.8 L1621.4,505.1 L1654.2,554.4 M1415.2,176.9 L1447.9,217.3 L1481.7,261.7 L1515.5,308.9 L1547.2,364.2 L1583.4,401.2 L1614.8,446.6 L1650.2,480.5 L1681.7,515.8 M1335.3,295.6 L1356.8,267.8 L1374.2,236.7 L1395.7,203.1 L1415.2,178.7 M1364.0,324.4 L1384.5,300.2 L1404.9,267.9 L1427.4,233.0 L1447.9,210.5 M1391.6,359.2 L1414.1,337.7 L1436.7,303.3 L1459.2,269.0 L1481.7,246.4 M1421.3,393.8 L1444.8,371.1 L1468.4,339.3 L1491.9,310.2 L1515.5,285.8 M1451.0,432.5 L1476.6,410.4 L1498.0,380.9 L1522.6,352.6 L1547.2,333.3 M1481.1,484.1 L1506.0,463.0 L1532.3,431.2 L1553.2,402.9 L1583.4,379.6 M1510.0,536.1 L1536.2,515.5 L1563.7,487.8 L1588.6,456.8 L1614.8,434.4 M1538.8,609.4 L1566.3,582.6 L1593.9,550.2 L1621.4,512.6 L1650.2,492.3 M1569.0,687.2 L1597.8,659.3 L1626.6,619.4 L1654.2,578.3 L1681.7,551.6 M1335.3,295.6 L1364.0,324.4 L1391.6,359.2 L1421.3,393.8 L1451.0,432.5 L1481.1,484.1 L1510.0,536.1 L1538.8,609.4 L1569.0,687.2 M1356.8,267.8 L1384.5,300.2 L1414.1,337.7 L1444.8,371.1 L1476.6,410.4 L1506.0,463.0 L1536.2,515.5 L1566.3,582.6 L1597.8,659.3 M1374.2,236.7 L1404.9,267.9 L1436.7,303.3 L1468.4,339.3 L1498.0,380.9 L1532.3,431.2 L1563.7,487.8 L1593.9,550.2 L1626.6,619.4 M1395.7,203.1 L1427.4,233.0 L1459.2,269.0 L1491.9,310.2 L1522.6,352.6 L1553.2,402.9 L1588.6,456.8 L1621.4,512.6 L1654.2,578.3 M1415.2,178.7 L1447.9,210.5 L1481.7,246.4 L1515.5,285.8 L1547.2,333.3 L1583.4,379.6 L1614.8,434.4 L1650.2,492.3 L1681.7,551.6 M1335.3,250.1 L1356.8,230.8 L1374.2,208.1 L1395.7,183.1 L1415.2,167.1 M1364.0,294.5 L1384.5,276.9 L1404.9,251.2 L1427.4,222.9 L1447.9,207.0 M1391.6,344.9 L1414.1,328.1 L1436.7,298.5 L1459.2,268.8 L1481.7,250.9 M1421.3,387.0 L1444.8,369.3 L1468.4,342.4 L1491.9,318.1 L1515.5,298.7 M1451.0,433.3 L1476.6,416.3 L1498.0,391.9 L1522.6,368.8 L1547.2,354.6 M1481.1,490.9 L1506.0,472.6 L1532.3,443.6 L1553.2,418.1 L1583.4,397.6 M1510.0,548.9 L1536.2,528.8 L1563.7,501.6 L1588.6,471.0 L1614.8,449.1 M1538.8,626.1 L1566.3,596.3 L1593.9,560.7 L1621.4,520.0 L1650.2,496.6 M1569.0,708.0 L1597.8,673.3 L1626.6,626.7 L1654.2,578.9 L1681.7,545.5 M1335.3,250.1 L1364.0,294.5 L1391.6,344.9 L1421.3,387.0 L1451.0,433.3 L1481.1,490.9 L1510.0,548.9 L1538.8,626.1 L1569.0,708.0 M1356.8,230.8 L1384.5,276.9 L1414.1,328.1 L1444.8,369.3 L1476.6,416.3 L1506.0,472.6 L1536.2,528.8 L1566.3,596.3 L1597.8,673.3 M1374.2,208.1 L1404.9,251.2 L1436.7,298.5 L1468.4,342.4 L1498.0,391.9 L1532.3,443.6 L1563.7,501.6 L1593.9,560.7 L1626.6,626.7 M1395.7,183.1 L1427.4,222.9 L1459.2,268.8 L1491.9,318.1 L1522.6,368.8 L1553.2,418.1 L1588.6,471.0 L1621.4,520.0 L1654.2,578.9 M1415.2,167.1 L1447.9,207.0 L1481.7,250.9 L1515.5,298.7 L1547.2,354.6 L1583.4,397.6 L1614.8,449.1 L1650.2,496.6 L1681.7,545.5 M1335.3,191.4 L1356.8,184.5 L1374.2,174.3 L1395.7,161.7 L1415.2,158.1 M1364.0,250.2 L1384.5,240.6 L1404.9,222.8 L1427.4,202.3 L1447.9,194.3 M1391.6,315.2 L1414.1,301.7 L1436.7,275.4 L1459.2,249.0 L1481.7,234.5 M1421.3,366.9 L1444.8,349.4 L1468.4,322.8 L1491.9,298.9 L1515.5,279.8 M1451.0,422.6 L1476.6,402.9 L1498.0,375.8 L1522.6,350.1 L1547.2,333.2 M1481.1,473.8 L1506.0,455.9 L1532.3,427.2 L1553.2,402.0 L1583.4,381.9 M1510.0,525.5 L1536.2,508.7 L1563.7,484.8 L1588.6,457.6 L1614.8,439.0 M1538.8,599.5 L1566.3,577.6 L1593.9,549.9 L1621.4,517.1 L1650.2,501.6 M1569.0,678.2 L1597.8,655.9 L1626.6,621.8 L1654.2,586.4 L1681.7,565.5 M1335.3,191.4 L1364.0,250.2 L1391.6,315.2 L1421.3,366.9 L1451.0,422.6 L1481.1,473.8 L1510.0,525.5 L1538.8,599.5 L1569.0,678.2 M1356.8,184.5 L1384.5,240.6 L1414.1,301.7 L1444.8,349.4 L1476.6,402.9 L1506.0,455.9 L1536.2,508.7 L1566.3,577.6 L1597.8,655.9 M1374.2,174.3 L1404.9,222.8 L1436.7,275.4 L1468.4,322.8 L1498.0,375.8 L1532.3,427.2 L1563.7,484.8 L1593.9,549.9 L1626.6,621.8 M1395.7,161.7 L1427.4,202.3 L1459.2,249.0 L1491.9,298.9 L1522.6,350.1 L1553.2,402.0 L1588.6,457.6 L1621.4,517.1 L1654.2,586.4 M1415.2,158.1 L1447.9,194.3 L1481.7,234.5 L1515.5,279.8 L1547.2,333.2 L1583.4,381.9 L1614.8,439.0 L1650.2,501.6 L1681.7,565.5 M1335.3,193.1 L1356.8,192.0 L1374.2,187.6 L1395.7,180.8 L1415.2,183.2 M1364.0,247.9 L1384.5,243.9 L1404.9,231.7 L1427.4,216.9 L1447.9,214.5 M1391.6,308.9 L1414.1,300.9 L1436.7,280.0 L1459.2,259.0 L1481.7,249.9 M1421.3,360.2 L1444.8,346.6 L1468.4,323.8 L1491.9,303.7 L1515.5,288.5 M1451.0,415.6 L1476.6,398.2 L1498.0,373.3 L1522.6,349.7 L1547.2,335.1 M1481.1,470.2 L1506.0,451.4 L1532.3,421.9 L1553.2,396.0 L1583.4,375.0 M1510.0,525.2 L1536.2,504.5 L1563.7,476.8 L1588.6,445.8 L1614.8,423.3 M1538.8,602.3 L1566.3,571.3 L1593.9,534.7 L1621.4,493.0 L1650.2,468.5 M1569.0,683.9 L1597.8,647.6 L1626.6,599.4 L1654.2,550.0 L1681.7,515.1 M1335.3,193.1 L1364.0,247.9 L1391.6,308.9 L1421.3,360.2 L1451.0,415.6 L1481.1,470.2 L1510.0,525.2 L1538.8,602.3 L1569.0,683.9 M1356.8,192.0 L1384.5,243.9 L1414.1,300.9 L1444.8,346.6 L1476.6,398.2 L1506.0,451.4 L1536.2,504.5 L1566.3,571.3 L1597.8,647.6 M1374.2,187.6 L1404.9,231.7 L1436.7,280.0 L1468.4,323.8 L1498.0,373.3 L1532.3,421.9 L1563.7,476.8 L1593.9,534.7 L1626.6,599.4 M1395.7,180.8 L1427.4,216.9 L1459.2,259.0 L1491.9,303.7 L1522.6,349.7 L1553.2,396.0 L1588.6,445.8 L1621.4,493.0 L1654.2,550.0 M1415.2,183.2 L1447.9,214.5 L1481.7,249.9 L1515.5,288.5 L1547.2,335.1 L1583.4,375.0 L1614.8,423.3 L1650.2,468.5 L1681.7,515.1 M1335.3,232.4 L1356.8,221.4 L1374.2,207.2 L1395.7,190.5 L1415.2,183.0 M1364.0,281.8 L1384.5,270.1 L1404.9,250.4 L1427.4,227.9 L1447.9,218.0 M1391.6,337.3 L1414.1,323.9 L1436.7,297.7 L1459.2,271.4 L1481.7,257.0 M1421.3,382.3 L1444.8,365.8 L1468.4,340.0 L1491.9,317.0 L1515.5,298.7 M1451.0,431.5 L1476.6,413.4 L1498.0,388.0 L1522.6,363.8 L1547.2,348.6 M1481.1,489.4 L1506.0,468.7 L1532.3,437.3 L1553.2,409.4 L1583.4,386.5 M1510.0,547.9 L1536.2,523.9 L1563.7,493.0 L1588.6,458.6 L1614.8,432.9 M1538.8,625.5 L1566.3,589.6 L1593.9,547.9 L1621.4,501.2 L1650.2,471.7 M1569.0,707.8 L1597.8,664.7 L1626.6,609.8 L1654.2,553.6 L1681.7,511.9 M1335.3,232.4 L1364.0,281.8 L1391.6,337.3 L1421.3,382.3 L1451.0,431.5 L1481.1,489.4 L1510.0,547.9 L1538.8,625.5 L1569.0,707.8 M1356.8,221.4 L1384.5,270.1 L1414.1,323.9 L1444.8,365.8 L1476.6,413.4 L1506.0,468.7 L1536.2,523.9 L1566.3,589.6 L1597.8,664.7 M1374.2,207.2 L1404.9,250.4 L1436.7,297.7 L1468.4,340.0 L1498.0,388.0 L1532.3,437.3 L1563.7,493.0 L1593.9,547.9 L1626.6,609.8 M1395.7,190.5 L1427.4,227.9 L1459.2,271.4 L1491.9,317.0 L1522.6,363.8 L1553.2,409.4 L1588.6,458.6 L1621.4,501.2 L1654.2,553.6 M1415.2,183.0 L1447.9,218.0 L1481.7,257.0 L1515.5,298.7 L1547.2,348.6 L1583.4,386.5 L1614.8,432.9 L1650.2,471.7 L1681.7,511.9 M1335.3,207.4 L1356.8,197.1 L1374.2,183.4 L1395.7,167.4 L1415.2,160.4 M1364.0,265.2 L1384.5,252.8 L1404.9,232.4 L1427.4,209.2 L1447.9,198.5 M1391.6,329.1 L1414.1,313.7 L1436.7,285.4 L1459.2,257.1 L1481.7,240.6 M1421.3,378.2 L1444.8,359.9 L1468.4,332.3 L1491.9,307.4 L1515.5,287.3 M1451.0,431.5 L1476.6,411.9 L1498.0,384.8 L1522.6,359.1 L1547.2,342.2 M1481.1,492.8 L1506.0,469.4 L1532.3,435.2 L1553.2,404.6 L1583.4,378.9 M1510.0,554.6 L1536.2,526.8 L1563.7,491.9 L1588.6,453.7 L1614.8,424.0 M1538.8,634.6 L1566.3,593.8 L1593.9,547.4 L1621.4,495.9 L1650.2,461.7 M1569.0,719.1 L1597.8,670.4 L1626.6,609.8 L1654.2,548.0 L1681.7,500.6 M1335.3,207.4 L1364.0,265.2 L1391.6,329.1 L1421.3,378.2 L1451.0,431.5 L1481.1,492.8 L1510.0,554.6 L1538.8,634.6 L1569.0,719.1 M1356.8,197.1 L1384.5,252.8 L1414.1,313.7 L1444.8,359.9 L1476.6,411.9 L1506.0,469.4 L1536.2,526.8 L1566.3,593.8 L1597.8,670.4 M1374.2,183.4 L1404.9,232.4 L1436.7,285.4 L1468.4,332.3 L1498.0,384.8 L1532.3,435.2 L1563.7,491.9 L1593.9,547.4 L1626.6,609.8 M1395.7,167.4 L1427.4,209.2 L1459.2,257.1 L1491.9,307.4 L1522.6,359.1 L1553.2,404.6 L1588.6,453.7 L1621.4,495.9 L1654.2,548.0 M1415.2,160.4 L1447.9,198.5 L1481.7,240.6 L1515.5,287.3 L1547.2,342.2 L1583.4,378.9 L1614.8,424.0 L1650.2,461.7 L1681.7,500.6 M1335.3,197.6 L1356.8,191.2 L1374.2,181.4 L1395.7,169.2 L1415.2,166.2 M1364.0,254.7 L1384.5,245.0 L1404.9,227.3 L1427.4,206.8 L1447.9,198.9 M1391.6,317.8 L1414.1,304.0 L1436.7,277.3 L1459.2,250.5 L1481.7,235.6 M1421.3,368.5 L1444.8,350.0 L1468.4,322.2 L1491.9,297.2 L1515.5,277.0 M1451.0,423.3 L1476.6,401.7 L1498.0,372.8 L1522.6,345.2 L1547.2,326.5 M1481.1,478.7 L1506.0,455.7 L1532.3,422.1 L1553.2,392.0 L1583.4,366.8 M1510.0,534.6 L1536.2,509.6 L1563.7,477.7 L1588.6,442.3 L1614.8,415.6 M1538.8,611.4 L1566.3,576.9 L1593.9,536.6 L1621.4,491.3 L1650.2,463.2 M1569.0,692.9 L1597.8,653.6 L1626.6,602.5 L1654.2,550.1 L1681.7,512.2 M1335.3,197.6 L1364.0,254.7 L1391.6,317.8 L1421.3,368.5 L1451.0,423.3 L1481.1,478.7 L1510.0,534.6 L1538.8,611.4 L1569.0,692.9 M1356.8,191.2 L1384.5,245.0 L1414.1,304.0 L1444.8,350.0 L1476.6,401.7 L1506.0,455.7 L1536.2,509.6 L1566.3,576.9 L1597.8,653.6 M1374.2,181.4 L1404.9,227.3 L1436.7,277.3 L1468.4,322.2 L1498.0,372.8 L1532.3,422.1 L1563.7,477.7 L1593.9,536.6 L1626.6,602.5 M1395.7,169.2 L1427.4,206.8 L1459.2,250.5 L1491.9,297.2 L1522.6,345.2 L1553.2,392.0 L1588.6,442.3 L1621.4,491.3 L1654.2,550.1 M1415.2,166.2 L1447.9,198.9 L1481.7,235.6 L1515.5,277.0 L1547.2,326.5 L1583.4,366.8 L1614.8,415.6 L1650.2,463.2 L1681.7,512.2 M1335.3,208.5 L1356.8,202.6 L1374.2,193.4 L1395.7,181.8 L1415.2,179.3 M1364.0,262.9 L1384.5,256.0 L1404.9,241.1 L1427.4,223.5 L1447.9,218.3 M1391.6,323.3 L1414.1,314.6 L1436.7,292.9 L1459.2,271.3 L1481.7,261.4 M1421.3,372.2 L1444.8,360.3 L1468.4,339.2 L1491.9,320.8 L1515.5,307.2 M1451.0,425.2 L1476.6,411.9 L1498.0,391.1 L1522.6,371.7 L1547.2,361.1 M1481.1,487.9 L1506.0,471.5 L1532.3,444.3 L1553.2,420.7 L1583.4,402.0 M1510.0,551.1 L1536.2,530.9 L1563.7,503.8 L1588.6,473.2 L1614.8,451.3 M1538.8,632.6 L1566.3,600.3 L1593.9,562.3 L1621.4,519.2 L1650.2,493.4 M1569.0,718.7 L1597.8,679.1 L1626.6,627.7 L1654.2,575.0 L1681.7,536.8 M1335.3,208.5 L1364.0,262.9 L1391.6,323.3 L1421.3,372.2 L1451.0,425.2 L1481.1,487.9 L1510.0,551.1 L1538.8,632.6 L1569.0,718.7 M1356.8,202.6 L1384.5,256.0 L1414.1,314.6 L1444.8,360.3 L1476.6,411.9 L1506.0,471.5 L1536.2,530.9 L1566.3,600.3 L1597.8,679.1 M1374.2,193.4 L1404.9,241.1 L1436.7,292.9 L1468.4,339.2 L1498.0,391.1 L1532.3,444.3 L1563.7,503.8 L1593.9,562.3 L1626.6,627.7 M1395.7,181.8 L1427.4,223.5 L1459.2,271.3 L1491.9,320.8 L1522.6,371.7 L1553.2,420.7 L1588.6,473.2 L1621.4,519.2 L1654.2,575.0 M1415.2,179.3 L1447.9,218.3 L1481.7,261.4 L1515.5,307.2 L1547.2,361.1 L1583.4,402.0 L1614.8,451.3 L1650.2,493.4 L1681.7,536.8 M1335.3,256.1 L1356.8,238.8 L1374.2,218.2 L1395.7,195.2 L1415.2,181.3 M1364.0,283.7 L1384.5,273.1 L1404.9,254.4 L1427.4,233.0 L1447.9,224.1 M1391.6,317.5 L1414.1,312.6 L1436.7,294.8 L1459.2,277.0 L1481.7,271.0 M1421.3,358.2 L1444.8,353.0 L1468.4,338.6 L1491.9,326.9 L1515.5,320.1 M1451.0,403.1 L1476.6,399.3 L1498.0,388.1 L1522.6,378.2 L1547.2,377.2 M1481.1,469.6 L1506.0,462.8 L1532.3,445.4 L1553.2,431.4 L1583.4,422.4 M1510.0,536.6 L1536.2,526.3 L1563.7,508.9 L1588.6,488.2 L1614.8,476.1 M1538.8,623.1 L1566.3,600.7 L1593.9,572.6 L1621.4,539.4 L1650.2,523.5 M1569.0,714.1 L1597.8,684.6 L1626.6,643.1 L1654.2,600.5 L1681.7,572.3 M1335.3,256.1 L1364.0,283.7 L1391.6,317.5 L1421.3,358.2 L1451.0,403.1 L1481.1,469.6 L1510.0,536.6 L1538.8,623.1 L1569.0,714.1 M1356.8,238.8 L1384.5,273.1 L1414.1,312.6 L1444.8,353.0 L1476.6,399.3 L1506.0,462.8 L1536.2,526.3 L1566.3,600.7 L1597.8,684.6 M1374.2,218.2 L1404.9,254.4 L1436.7,294.8 L1468.4,338.6 L1498.0,388.1 L1532.3,445.4 L1563.7,508.9 L1593.9,572.6 L1626.6,643.1 M1395.7,195.2 L1427.4,233.0 L1459.2,277.0 L1491.9,326.9 L1522.6,378.2 L1553.2,431.4 L1588.6,488.2 L1621.4,539.4 L1654.2,600.5 M1415.2,181.3 L1447.9,224.1 L1481.7,271.0 L1515.5,320.1 L1547.2,377.2 L1583.4,422.4 L1614.8,476.1 L1650.2,523.5 L1681.7,572.3 M1335.3,210.9 L1356.8,204.1 L1374.2,193.9 L1395.7,181.4 L1415.2,177.9 M1364.0,262.4 L1384.5,253.6 L1404.9,236.7 L1427.4,217.1 L1447.9,210.0 M1391.6,319.9 L1414.1,308.2 L1436.7,283.5 L1459.2,258.9 L1481.7,246.1 M1421.3,368.3 L1444.8,352.0 L1468.4,326.5 L1491.9,303.7 L1515.5,285.7 M1451.0,420.9 L1476.6,401.7 L1498.0,375.1 L1522.6,349.8 L1547.2,333.5 M1481.1,472.2 L1506.0,451.8 L1532.3,420.7 L1553.2,393.1 L1583.4,370.5 M1510.0,524.1 L1536.2,501.9 L1563.7,472.6 L1588.6,440.0 L1614.8,416.0 M1538.8,598.4 L1566.3,565.3 L1593.9,526.5 L1621.4,482.6 L1650.2,456.0 M1569.0,677.4 L1597.8,638.3 L1626.6,587.3 L1654.2,535.1 L1681.7,497.4 M1335.3,210.9 L1364.0,262.4 L1391.6,319.9 L1421.3,368.3 L1451.0,420.9 L1481.1,472.2 L1510.0,524.1 L1538.8,598.4 L1569.0,677.4 M1356.8,204.1 L1384.5,253.6 L1414.1,308.2 L1444.8,352.0 L1476.6,401.7 L1506.0,451.8 L1536.2,501.9 L1566.3,565.3 L1597.8,638.3 M1374.2,193.9 L1404.9,236.7 L1436.7,283.5 L1468.4,326.5 L1498.0,375.1 L1532.3,420.7 L1563.7,472.6 L1593.9,526.5 L1626.6,587.3 M1395.7,181.4 L1427.4,217.1 L1459.2,258.9 L1491.9,303.7 L1522.6,349.8 L1553.2,393.1 L1588.6,440.0 L1621.4,482.6 L1654.2,535.1 M1415.2,177.9 L1447.9,210.0 L1481.7,246.1 L1515.5,285.7 L1547.2,333.5 L1583.4,370.5 L1614.8,416.0 L1650.2,456.0 L1681.7,497.4 M1335.3,196.3 L1356.8,186.6 L1374.2,173.7 L1395.7,158.4 L1415.2,152.1 M1364.0,248.1 L1384.5,237.2 L1404.9,218.3 L1427.4,196.7 L1447.9,187.6 M1391.6,306.0 L1414.1,293.0 L1436.7,267.0 L1459.2,241.1 L1481.7,227.0 M1421.3,356.7 L1444.8,339.9 L1468.4,313.9 L1491.9,290.7 L1515.5,272.2 M1451.0,411.5 L1476.6,392.7 L1498.0,366.5 L1522.6,341.5 L1547.2,325.5 M1481.1,466.5 L1506.0,445.8 L1532.3,414.4 L1553.2,386.5 L1583.4,363.5 M1510.0,522.0 L1536.2,498.8 L1563.7,468.6 L1588.6,435.0 L1614.8,410.0 M1538.8,599.8 L1566.3,565.8 L1593.9,526.0 L1621.4,481.1 L1650.2,453.6 M1569.0,682.2 L1597.8,642.2 L1626.6,590.2 L1654.2,537.1 L1681.7,498.4 M1335.3,196.3 L1364.0,248.1 L1391.6,306.0 L1421.3,356.7 L1451.0,411.5 L1481.1,466.5 L1510.0,522.0 L1538.8,599.8 L1569.0,682.2 M1356.8,186.6 L1384.5,237.2 L1414.1,293.0 L1444.8,339.9 L1476.6,392.7 L1506.0,445.8 L1536.2,498.8 L1566.3,565.8 L1597.8,642.2 M1374.2,173.7 L1404.9,218.3 L1436.7,267.0 L1468.4,313.9 L1498.0,366.5 L1532.3,414.4 L1563.7,468.6 L1593.9,526.0 L1626.6,590.2 M1395.7,158.4 L1427.4,196.7 L1459.2,241.1 L1491.9,290.7 L1522.6,341.5 L1553.2,386.5 L1588.6,435.0 L1621.4,481.1 L1654.2,537.1 M1415.2,152.1 L1447.9,187.6 L1481.7,227.0 L1515.5,272.2 L1547.2,325.5 L1583.4,363.5 L1614.8,410.0 L1650.2,453.6 L1681.7,498.4 M1335.3,192.4 L1356.8,191.5 L1374.2,187.3 L1395.7,180.7 L1415.2,183.2 M1364.0,249.5 L1384.5,247.1 L1404.9,236.6 L1427.4,223.4 L1447.9,222.7 M1391.6,312.7 L1414.1,307.8 L1436.7,290.0 L1459.2,272.2 L1481.7,266.1 M1421.3,364.2 L1444.8,355.5 L1468.4,337.6 L1491.9,322.3 L1515.5,311.9 M1451.0,419.8 L1476.6,409.0 L1498.0,390.8 L1522.6,373.8 L1547.2,365.8 M1481.1,471.3 L1506.0,458.4 L1532.3,434.8 L1553.2,414.7 L1583.4,399.6 M1510.0,523.2 L1536.2,507.7 L1563.7,485.1 L1588.6,459.2 L1614.8,441.9 M1538.8,597.8 L1566.3,568.2 L1593.9,532.9 L1621.4,492.5 L1650.2,469.4 M1569.0,676.9 L1597.8,638.2 L1626.6,587.6 L1654.2,535.7 L1681.7,498.3 M1335.3,192.4 L1364.0,249.5 L1391.6,312.7 L1421.3,364.2 L1451.0,419.8 L1481.1,471.3 L1510.0,523.2 L1538.8,597.8 L1569.0,676.9 M1356.8,191.5 L1384.5,247.1 L1414.1,307.8 L1444.8,355.5 L1476.6,409.0 L1506.0,458.4 L1536.2,507.7 L1566.3,568.2 L1597.8,638.2 M1374.2,187.3 L1404.9,236.6 L1436.7,290.0 L1468.4,337.6 L1498.0,390.8 L1532.3,434.8 L1563.7,485.1 L1593.9,532.9 L1626.6,587.6 M1395.7,180.7 L1427.4,223.4 L1459.2,272.2 L1491.9,322.3 L1522.6,373.8 L1553.2,414.7 L1588.6,459.2 L1621.4,492.5 L1654.2,535.7 M1415.2,183.2 L1447.9,222.7 L1481.7,266.1 L1515.5,311.9 L1547.2,365.8 L1583.4,399.6 L1614.8,441.9 L1650.2,469.4 L1681.7,498.3 M1335.3,198.8 L1356.8,190.1 L1374.2,178.2 L1395.7,163.8 L1415.2,158.6 M1364.0,253.5 L1384.5,245.9 L1404.9,230.2 L1427.4,211.8 L1447.9,206.0 M1391.6,314.3 L1414.1,306.8 L1436.7,286.4 L1459.2,266.0 L1481.7,257.4 M1421.3,364.7 L1444.8,356.1 L1468.4,338.2 L1491.9,323.1 L1515.5,312.7 M1451.0,419.3 L1476.6,411.2 L1498.0,395.6 L1522.6,381.4 L1547.2,376.1 M1481.1,472.7 L1506.0,467.2 L1532.3,451.1 L1553.2,438.4 L1583.4,430.8 M1510.0,526.6 L1536.2,523.2 L1563.7,512.8 L1588.6,499.0 L1614.8,493.9 M1538.8,602.5 L1566.3,594.3 L1593.9,580.4 L1621.4,561.4 L1650.2,559.7 M1569.0,683.0 L1597.8,674.9 L1626.6,654.9 L1654.2,633.7 L1681.7,626.9 M1335.3,198.8 L1364.0,253.5 L1391.6,314.3 L1421.3,364.7 L1451.0,419.3 L1481.1,472.7 L1510.0,526.6 L1538.8,602.5 L1569.0,683.0 M1356.8,190.1 L1384.5,245.9 L1414.1,306.8 L1444.8,356.1 L1476.6,411.2 L1506.0,467.2 L1536.2,523.2 L1566.3,594.3 L1597.8,674.9 M1374.2,178.2 L1404.9,230.2 L1436.7,286.4 L1468.4,338.2 L1498.0,395.6 L1532.3,451.1 L1563.7,512.8 L1593.9,580.4 L1626.6,654.9 M1395.7,163.8 L1427.4,211.8 L1459.2,266.0 L1491.9,323.1 L1522.6,381.4 L1553.2,438.4 L1588.6,499.0 L1621.4,561.4 L1654.2,633.7 M1415.2,158.6 L1447.9,206.0 L1481.7,257.4 L1515.5,312.7 L1547.2,376.1 L1583.4,430.8 L1614.8,493.9 L1650.2,559.7 L1681.7,626.9 M1335.3,219.9 L1356.8,205.6 L1374.2,188.0 L1395.7,167.9 L1415.2,157.0 M1364.0,269.5 L1384.5,256.0 L1404.9,234.5 L1427.4,210.2 L1447.9,198.4 M1391.6,325.1 L1414.1,311.5 L1436.7,285.1 L1459.2,258.6 L1481.7,243.9 M1421.3,372.1 L1444.8,356.9 L1468.4,332.6 L1491.9,310.9 L1515.5,294.0 M1451.0,423.2 L1476.6,408.1 L1498.0,385.7 L1522.6,364.5 L1547.2,352.2 M1481.1,474.0 L1506.0,457.5 L1532.3,430.4 L1553.2,406.7 L1583.4,388.1 M1510.0,525.2 L1536.2,506.8 L1563.7,481.4 L1588.6,452.6 L1614.8,432.4 M1538.8,598.9 L1566.3,568.3 L1593.9,532.0 L1621.4,490.6 L1650.2,466.5 M1569.0,677.2 L1597.8,639.3 L1626.6,589.6 L1654.2,538.6 L1681.7,502.0 M1335.3,219.9 L1364.0,269.5 L1391.6,325.1 L1421.3,372.1 L1451.0,423.2 L1481.1,474.0 L1510.0,525.2 L1538.8,598.9 L1569.0,677.2 M1356.8,205.6 L1384.5,256.0 L1414.1,311.5 L1444.8,356.9 L1476.6,408.1 L1506.0,457.5 L1536.2,506.8 L1566.3,568.3 L1597.8,639.3 M1374.2,188.0 L1404.9,234.5 L1436.7,285.1 L1468.4,332.6 L1498.0,385.7 L1532.3,430.4 L1563.7,481.4 L1593.9,532.0 L1626.6,589.6 M1395.7,167.9 L1427.4,210.2 L1459.2,258.6 L1491.9,310.9 L1522.6,364.5 L1553.2,406.7 L1588.6,452.6 L1621.4,490.6 L1654.2,538.6 M1415.2,157.0 L1447.9,198.4 L1481.7,243.9 L1515.5,294.0 L1547.2,352.2 L1583.4,388.1 L1614.8,432.4 L1650.2,466.5 L1681.7,502.0 M1335.3,292.6 L1356.8,267.1 L1374.2,238.2 L1395.7,206.9 L1415.2,184.7 M1364.0,312.1 L1384.5,294.1 L1404.9,268.0 L1427.4,239.1 L1447.9,222.8 M1391.6,337.7 L1414.1,326.2 L1436.7,301.9 L1459.2,277.5 L1481.7,264.9 M1421.3,372.6 L1444.8,361.1 L1468.4,340.4 L1491.9,322.4 L1515.5,309.3 M1451.0,411.5 L1476.6,401.7 L1498.0,384.6 L1522.6,368.7 L1547.2,361.8 M1481.1,464.9 L1506.0,452.7 L1532.3,429.8 L1553.2,410.4 L1583.4,396.0 M1510.0,518.8 L1536.2,503.6 L1563.7,481.3 L1588.6,455.7 L1614.8,438.7 M1538.8,595.6 L1566.3,566.1 L1593.9,531.0 L1621.4,490.8 L1650.2,467.8 M1569.0,676.9 L1597.8,638.2 L1626.6,587.6 L1654.2,535.7 L1681.7,498.3 M1335.3,292.6 L1364.0,312.1 L1391.6,337.7 L1421.3,372.6 L1451.0,411.5 L1481.1,464.9 L1510.0,518.8 L1538.8,595.6 L1569.0,676.9 M1356.8,267.1 L1384.5,294.1 L1414.1,326.2 L1444.8,361.1 L1476.6,401.7 L1506.0,452.7 L1536.2,503.6 L1566.3,566.1 L1597.8,638.2 M1374.2,238.2 L1404.9,268.0 L1436.7,301.9 L1468.4,340.4 L1498.0,384.6 L1532.3,429.8 L1563.7,481.3 L1593.9,531.0 L1626.6,587.6 M1395.7,206.9 L1427.4,239.1 L1459.2,277.5 L1491.9,322.4 L1522.6,368.7 L1553.2,410.4 L1588.6,455.7 L1621.4,490.8 L1654.2,535.7 M1415.2,184.7 L1447.9,222.8 L1481.7,264.9 L1515.5,309.3 L1547.2,361.8 L1583.4,396.0 L1614.8,438.7 L1650.2,467.8 L1681.7,498.3 M1335.3,231.4 L1356.8,221.2 L1374.2,207.8 L1395.7,191.9 L1415.2,185.2 M1364.0,265.3 L1384.5,260.1 L1404.9,246.7 L1427.4,230.7 L1447.9,227.1 M1391.6,305.4 L1414.1,304.0 L1436.7,289.8 L1459.2,275.5 L1481.7,273.0 M1421.3,350.1 L1444.8,347.2 L1468.4,335.0 L1491.9,325.5 L1515.5,320.8 M1451.0,399.0 L1476.6,396.1 L1498.0,385.8 L1522.6,376.8 L1547.2,376.7 M1481.1,459.2 L1506.0,454.0 L1532.3,438.1 L1553.2,425.7 L1583.4,418.3 M1510.0,519.9 L1536.2,511.8 L1563.7,496.7 L1588.6,478.2 L1614.8,468.3 M1538.8,602.5 L1566.3,581.6 L1593.9,554.9 L1621.4,523.2 L1650.2,508.8 M1569.0,689.7 L1597.8,660.9 L1626.6,620.1 L1654.2,578.1 L1681.7,550.6 M1335.3,231.4 L1364.0,265.3 L1391.6,305.4 L1421.3,350.1 L1451.0,399.0 L1481.1,459.2 L1510.0,519.9 L1538.8,602.5 L1569.0,689.7 M1356.8,221.2 L1384.5,260.1 L1414.1,304.0 L1444.8,347.2 L1476.6,396.1 L1506.0,454.0 L1536.2,511.8 L1566.3,581.6 L1597.8,660.9 M1374.2,207.8 L1404.9,246.7 L1436.7,289.8 L1468.4,335.0 L1498.0,385.8 L1532.3,438.1 L1563.7,496.7 L1593.9,554.9 L1626.6,620.1 M1395.7,191.9 L1427.4,230.7 L1459.2,275.5 L1491.9,325.5 L1522.6,376.8 L1553.2,425.7 L1588.6,478.2 L1621.4,523.2 L1654.2,578.1 M1415.2,185.2 L1447.9,227.1 L1481.7,273.0 L1515.5,320.8 L1547.2,376.7 L1583.4,418.3 L1614.8,468.3 L1650.2,508.8 L1681.7,550.6 M1335.3,199.4 L1356.8,196.2 L1374.2,189.7 L1395.7,180.9 L1415.2,181.1 M1364.0,254.2 L1384.5,249.9 L1404.9,237.6 L1427.4,222.5 L1447.9,220.0 M1391.6,315.1 L1414.1,308.8 L1436.7,289.6 L1459.2,270.3 L1481.7,262.9 M1421.3,365.4 L1444.8,355.5 L1468.4,336.4 L1491.9,320.0 L1515.5,308.4 M1451.0,419.9 L1476.6,408.1 L1498.0,388.9 L1522.6,371.0 L1547.2,362.0 M1481.1,471.7 L1506.0,460.8 L1532.3,439.2 L1553.2,421.2 L1583.4,408.1 M1510.0,524.0 L1536.2,513.5 L1563.7,495.9 L1588.6,474.9 L1614.8,462.6 M1538.8,598.8 L1566.3,580.2 L1593.9,556.0 L1621.4,526.6 L1650.2,514.6 M1569.0,678.2 L1597.8,656.5 L1626.6,623.0 L1654.2,588.3 L1681.7,567.9 M1335.3,199.4 L1364.0,254.2 L1391.6,315.1 L1421.3,365.4 L1451.0,419.9 L1481.1,471.7 L1510.0,524.0 L1538.8,598.8 L1569.0,678.2 M1356.8,196.2 L1384.5,249.9 L1414.1,308.8 L1444.8,355.5 L1476.6,408.1 L1506.0,460.8 L1536.2,513.5 L1566.3,580.2 L1597.8,656.5 M1374.2,189.7 L1404.9,237.6 L1436.7,289.6 L1468.4,336.4 L1498.0,388.9 L1532.3,439.2 L1563.7,495.9 L1593.9,556.0 L1626.6,623.0 M1395.7,180.9 L1427.4,222.5 L1459.2,270.3 L1491.9,320.0 L1522.6,371.0 L1553.2,421.2 L1588.6,474.9 L1621.4,526.6 L1654.2,588.3 M1415.2,181.1 L1447.9,220.0 L1481.7,262.9 L1515.5,308.4 L1547.2,362.0 L1583.4,408.1 L1614.8,462.6 L1650.2,514.6 L1681.7,567.9 M1335.3,204.7 L1356.8,201.3 L1374.2,194.5 L1395.7,185.4 L1415.2,185.3 M1364.0,255.2 L1384.5,252.4 L1404.9,241.6 L1427.4,228.1 L1447.9,227.1 M1391.6,311.7 L1414.1,308.7 L1436.7,292.8 L1459.2,277.0 L1481.7,272.9 M1421.3,361.1 L1444.8,355.3 L1468.4,340.3 L1491.9,328.0 L1515.5,320.5 M1451.0,414.6 L1476.6,407.7 L1498.0,393.4 L1522.6,380.4 L1547.2,376.3 M1481.1,476.3 L1506.0,467.7 L1532.3,448.5 L1553.2,432.7 L1583.4,421.9 M1510.0,538.5 L1536.2,527.7 L1563.7,509.9 L1588.6,488.6 L1614.8,476.0 M1538.8,620.6 L1566.3,599.0 L1593.9,571.8 L1621.4,539.5 L1650.2,524.5 M1569.0,707.2 L1597.8,679.9 L1626.6,640.6 L1654.2,600.2 L1681.7,574.2 M1335.3,204.7 L1364.0,255.2 L1391.6,311.7 L1421.3,361.1 L1451.0,414.6 L1481.1,476.3 L1510.0,538.5 L1538.8,620.6 L1569.0,707.2 M1356.8,201.3 L1384.5,252.4 L1414.1,308.7 L1444.8,355.3 L1476.6,407.7 L1506.0,467.7 L1536.2,527.7 L1566.3,599.0 L1597.8,679.9 M1374.2,194.5 L1404.9,241.6 L1436.7,292.8 L1468.4,340.3 L1498.0,393.4 L1532.3,448.5 L1563.7,509.9 L1593.9,571.8 L1626.6,640.6 M1395.7,185.4 L1427.4,228.1 L1459.2,277.0 L1491.9,328.0 L1522.6,380.4 L1553.2,432.7 L1588.6,488.6 L1621.4,539.5 L1654.2,600.2 M1415.2,185.3 L1447.9,227.1 L1481.7,272.9 L1515.5,320.5 L1547.2,376.3 L1583.4,421.9 L1614.8,476.0 L1650.2,524.5 L1681.7,574.2 M1335.3,289.8 L1356.8,262.5 L1374.2,231.9 L1395.7,198.8 L1415.2,174.9 M1364.0,318.7 L1384.5,296.5 L1404.9,266.2 L1427.4,233.2 L1447.9,212.7 M1391.6,353.7 L1414.1,335.7 L1436.7,304.7 L1459.2,273.7 L1481.7,254.6 M1421.3,389.3 L1444.8,371.2 L1468.4,344.0 L1491.9,319.4 L1515.5,299.7 M1451.0,428.9 L1476.6,412.6 L1498.0,388.9 L1522.6,366.5 L1547.2,352.9 M1481.1,478.9 L1506.0,461.2 L1532.3,432.8 L1553.2,407.9 L1583.4,387.9 M1510.0,529.4 L1536.2,509.7 L1563.7,483.0 L1588.6,452.9 L1614.8,431.3 M1538.8,602.1 L1566.3,569.9 L1593.9,532.1 L1621.4,489.2 L1650.2,463.6 M1569.0,679.3 L1597.8,639.7 L1626.6,588.2 L1654.2,535.5 L1681.7,497.2 M1335.3,289.8 L1364.0,318.7 L1391.6,353.7 L1421.3,389.3 L1451.0,428.9 L1481.1,478.9 L1510.0,529.4 L1538.8,602.1 L1569.0,679.3 M1356.8,262.5 L1384.5,296.5 L1414.1,335.7 L1444.8,371.2 L1476.6,412.6 L1506.0,461.2 L1536.2,509.7 L1566.3,569.9 L1597.8,639.7 M1374.2,231.9 L1404.9,266.2 L1436.7,304.7 L1468.4,344.0 L1498.0,388.9 L1532.3,432.8 L1563.7,483.0 L1593.9,532.1 L1626.6,588.2 M1395.7,198.8 L1427.4,233.2 L1459.2,273.7 L1491.9,319.4 L1522.6,366.5 L1553.2,407.9 L1588.6,452.9 L1621.4,489.2 L1654.2,535.5 M1415.2,174.9 L1447.9,212.7 L1481.7,254.6 L1515.5,299.7 L1547.2,352.9 L1583.4,387.9 L1614.8,431.3 L1650.2,463.6 L1681.7,497.2 M1335.3,191.5 L1356.8,189.8 L1374.2,184.9 L1395.7,177.6 L1415.2,179.3 M1364.0,247.5 L1384.5,245.8 L1404.9,236.0 L1427.4,223.5 L1447.9,223.5 M1391.6,309.6 L1414.1,306.8 L1436.7,291.2 L1459.2,275.5 L1481.7,271.7 M1421.3,361.2 L1444.8,355.7 L1468.4,341.1 L1491.9,329.2 L1515.5,322.1 M1451.0,416.9 L1476.6,410.5 L1498.0,396.7 L1522.6,384.2 L1547.2,380.6 M1481.1,469.9 L1506.0,461.4 L1532.3,442.1 L1553.2,426.4 L1583.4,415.6 M1510.0,523.5 L1536.2,512.2 L1563.7,493.9 L1588.6,472.2 L1614.8,459.1 M1538.8,599.4 L1566.3,573.7 L1593.9,542.2 L1621.4,505.6 L1650.2,486.3 M1569.0,680.0 L1597.8,644.6 L1626.6,597.4 L1654.2,548.9 L1681.7,514.9 M1335.3,191.5 L1364.0,247.5 L1391.6,309.6 L1421.3,361.2 L1451.0,416.9 L1481.1,469.9 L1510.0,523.5 L1538.8,599.4 L1569.0,680.0 M1356.8,189.8 L1384.5,245.8 L1414.1,306.8 L1444.8,355.7 L1476.6,410.5 L1506.0,461.4 L1536.2,512.2 L1566.3,573.7 L1597.8,644.6 M1374.2,184.9 L1404.9,236.0 L1436.7,291.2 L1468.4,341.1 L1498.0,396.7 L1532.3,442.1 L1563.7,493.9 L1593.9,542.2 L1626.6,597.4 M1395.7,177.6 L1427.4,223.5 L1459.2,275.5 L1491.9,329.2 L1522.6,384.2 L1553.2,426.4 L1588.6,472.2 L1621.4,505.6 L1654.2,548.9 M1415.2,179.3 L1447.9,223.5 L1481.7,271.7 L1515.5,322.1 L1547.2,380.6 L1583.4,415.6 L1614.8,459.1 L1650.2,486.3 L1681.7,514.9 M1335.3,324.0 L1356.8,286.9 L1374.2,246.6 L1395.7,203.8 L1415.2,170.1 M1364.0,343.5 L1384.5,313.7 L1404.9,275.7 L1427.4,235.1 L1447.9,206.9 M1391.6,369.2 L1414.1,345.5 L1436.7,309.0 L1459.2,272.4 L1481.7,247.7 M1421.3,399.1 L1444.8,376.8 L1468.4,345.2 L1491.9,316.4 L1515.5,292.3 M1451.0,433.2 L1476.6,413.9 L1498.0,387.1 L1522.6,361.6 L1547.2,345.1 M1481.1,494.0 L1506.0,470.9 L1532.3,437.1 L1553.2,406.8 L1583.4,381.4 M1510.0,555.4 L1536.2,527.9 L1563.7,493.4 L1588.6,455.5 L1614.8,426.2 M1538.8,634.8 L1566.3,594.3 L1593.9,548.0 L1621.4,496.7 L1650.2,462.7 M1569.0,718.9 L1597.8,670.2 L1626.6,609.6 L1654.2,547.8 L1681.7,500.4 M1335.3,324.0 L1364.0,343.5 L1391.6,369.2 L1421.3,399.1 L1451.0,433.2 L1481.1,494.0 L1510.0,555.4 L1538.8,634.8 L1569.0,718.9 M1356.8,286.9 L1384.5,313.7 L1414.1,345.5 L1444.8,376.8 L1476.6,413.9 L1506.0,470.9 L1536.2,527.9 L1566.3,594.3 L1597.8,670.2 M1374.2,246.6 L1404.9,275.7 L1436.7,309.0 L1468.4,345.2 L1498.0,387.1 L1532.3,437.1 L1563.7,493.4 L1593.9,548.0 L1626.6,609.6 M1395.7,203.8 L1427.4,235.1 L1459.2,272.4 L1491.9,316.4 L1522.6,361.6 L1553.2,406.8 L1588.6,455.5 L1621.4,496.7 L1654.2,547.8 M1415.2,170.1 L1447.9,206.9 L1481.7,247.7 L1515.5,292.3 L1547.2,345.1 L1583.4,381.4 L1614.8,426.2 L1650.2,462.7 L1681.7,500.4 M1335.3,195.7 L1356.8,194.1 L1374.2,189.2 L1395.7,181.9 L1415.2,183.7 M1364.0,248.7 L1384.5,247.3 L1404.9,237.7 L1427.4,225.5 L1447.9,225.7 M1391.6,307.9 L1414.1,305.6 L1436.7,290.3 L1459.2,275.1 L1481.7,271.7 M1421.3,358.7 L1444.8,353.3 L1468.4,338.7 L1491.9,326.8 L1515.5,319.7 M1451.0,413.7 L1476.6,406.9 L1498.0,392.7 L1522.6,379.8 L1547.2,375.8 M1481.1,471.9 L1506.0,462.0 L1532.3,441.3 L1553.2,424.1 L1583.4,411.9 M1510.0,530.7 L1536.2,516.9 L1563.7,496.2 L1588.6,472.1 L1614.8,456.5 M1538.8,610.5 L1566.3,582.0 L1593.9,547.9 L1621.4,508.6 L1650.2,486.7 M1569.0,694.8 L1597.8,656.6 L1626.6,606.5 L1654.2,555.1 L1681.7,518.2 M1335.3,195.7 L1364.0,248.7 L1391.6,307.9 L1421.3,358.7 L1451.0,413.7 L1481.1,471.9 L1510.0,530.7 L1538.8,610.5 L1569.0,694.8 M1356.8,194.1 L1384.5,247.3 L1414.1,305.6 L1444.8,353.3 L1476.6,406.9 L1506.0,462.0 L1536.2,516.9 L1566.3,582.0 L1597.8,656.6 M1374.2,189.2 L1404.9,237.7 L1436.7,290.3 L1468.4,338.7 L1498.0,392.7 L1532.3,441.3 L1563.7,496.2 L1593.9,547.9 L1626.6,606.5 M1395.7,181.9 L1427.4,225.5 L1459.2,275.1 L1491.9,326.8 L1522.6,379.8 L1553.2,424.1 L1588.6,472.1 L1621.4,508.6 L1654.2,555.1 M1415.2,183.7 L1447.9,225.7 L1481.7,271.7 L1515.5,319.7 L1547.2,375.8 L1583.4,411.9 L1614.8,456.5 L1650.2,486.7 L1681.7,518.2 M1335.3,251.3 L1356.8,234.5 L1374.2,214.4 L1395.7,192.0 L1415.2,178.6 M1364.0,293.7 L1384.5,280.1 L1404.9,258.5 L1427.4,234.2 L1447.9,222.4 M1391.6,342.1 L1414.1,330.9 L1436.7,306.7 L1459.2,282.6 L1481.7,270.2 M1421.3,384.0 L1444.8,372.5 L1468.4,351.7 L1491.9,333.6 L1515.5,320.4 M1451.0,430.0 L1476.6,419.9 L1498.0,402.3 L1522.6,386.0 L1547.2,378.6 M1481.1,479.2 L1506.0,470.2 L1532.3,450.5 L1553.2,434.3 L1583.4,423.1 M1510.0,528.8 L1536.2,520.4 L1563.7,505.0 L1588.6,486.2 L1614.8,476.0 M1538.8,600.7 L1566.3,583.5 L1593.9,560.5 L1621.4,532.4 L1650.2,521.7 M1569.0,677.2 L1597.8,656.0 L1626.6,622.9 L1654.2,588.6 L1681.7,568.7 M1335.3,251.3 L1364.0,293.7 L1391.6,342.1 L1421.3,384.0 L1451.0,430.0 L1481.1,479.2 L1510.0,528.8 L1538.8,600.7 L1569.0,677.2 M1356.8,234.5 L1384.5,280.1 L1414.1,330.9 L1444.8,372.5 L1476.6,419.9 L1506.0,470.2 L1536.2,520.4 L1566.3,583.5 L1597.8,656.0 M1374.2,214.4 L1404.9,258.5 L1436.7,306.7 L1468.4,351.7 L1498.0,402.3 L1532.3,450.5 L1563.7,505.0 L1593.9,560.5 L1626.6,622.9 M1395.7,192.0 L1427.4,234.2 L1459.2,282.6 L1491.9,333.6 L1522.6,386.0 L1553.2,434.3 L1588.6,486.2 L1621.4,532.4 L1654.2,588.6 M1415.2,178.6 L1447.9,222.4 L1481.7,270.2 L1515.5,320.4 L1547.2,378.6 L1583.4,423.1 L1614.8,476.0 L1650.2,521.7 L1681.7,568.7 M1335.3,272.7 L1356.8,251.3 L1374.2,226.6 L1395.7,199.5 L1415.2,181.5 M1364.0,304.5 L1384.5,287.1 L1404.9,261.5 L1427.4,233.3 L1447.9,217.6 M1391.6,342.4 L1414.1,327.9 L1436.7,300.6 L1459.2,273.2 L1481.7,257.7 M1421.3,380.7 L1444.8,365.0 L1468.4,340.2 L1491.9,318.0 L1515.5,300.6 M1451.0,423.1 L1476.6,407.9 L1498.0,385.3 L1522.6,364.0 L1547.2,351.7 M1481.1,474.2 L1506.0,460.6 L1532.3,436.3 L1553.2,415.5 L1583.4,399.7 M1510.0,525.8 L1536.2,513.2 L1563.7,493.6 L1588.6,470.6 L1614.8,456.1 M1538.8,599.8 L1566.3,580.8 L1593.9,556.1 L1621.4,526.4 L1650.2,513.9 M1569.0,678.4 L1597.8,657.9 L1626.6,625.6 L1654.2,592.1 L1681.7,573.0 M1335.3,272.7 L1364.0,304.5 L1391.6,342.4 L1421.3,380.7 L1451.0,423.1 L1481.1,474.2 L1510.0,525.8 L1538.8,599.8 L1569.0,678.4 M1356.8,251.3 L1384.5,287.1 L1414.1,327.9 L1444.8,365.0 L1476.6,407.9 L1506.0,460.6 L1536.2,513.2 L1566.3,580.8 L1597.8,657.9 M1374.2,226.6 L1404.9,261.5 L1436.7,300.6 L1468.4,340.2 L1498.0,385.3 L1532.3,436.3 L1563.7,493.6 L1593.9,556.1 L1626.6,625.6 M1395.7,199.5 L1427.4,233.3 L1459.2,273.2 L1491.9,318.0 L1522.6,364.0 L1553.2,415.5 L1588.6,470.6 L1621.4,526.4 L1654.2,592.1 M1415.2,181.5 L1447.9,217.6 L1481.7,257.7 L1515.5,300.6 L1547.2,351.7 L1583.4,399.7 L1614.8,456.1 L1650.2,513.9 L1681.7,573.0 M1335.3,335.0 L1356.8,298.8 L1374.2,259.3 L1395.7,217.4 L1415.2,184.6 M1364.0,344.8 L1384.5,319.2 L1404.9,285.5 L1427.4,249.0 L1447.9,225.1 M1391.6,360.7 L1414.1,344.7 L1436.7,315.7 L1459.2,286.7 L1481.7,269.6 M1421.3,388.7 L1444.8,374.9 L1468.4,351.9 L1491.9,331.6 L1515.5,316.1 M1451.0,420.8 L1476.6,411.0 L1498.0,393.7 L1522.6,377.8 L1547.2,370.8 M1481.1,474.2 L1506.0,461.7 L1532.3,438.5 L1553.2,418.9 L1583.4,404.2 M1510.0,528.2 L1536.2,512.4 L1563.7,489.7 L1588.6,463.5 L1614.8,446.0 M1538.8,603.9 L1566.3,573.4 L1593.9,537.1 L1621.4,495.8 L1650.2,471.7 M1569.0,684.3 L1597.8,643.9 L1626.6,591.5 L1654.2,537.9 L1681.7,498.8 M1335.3,335.0 L1364.0,344.8 L1391.6,360.7 L1421.3,388.7 L1451.0,420.8 L1481.1,474.2 L1510.0,528.2 L1538.8,603.9 L1569.0,684.3 M1356.8,298.8 L1384.5,319.2 L1414.1,344.7 L1444.8,374.9 L1476.6,411.0 L1506.0,461.7 L1536.2,512.4 L1566.3,573.4 L1597.8,643.9 M1374.2,259.3 L1404.9,285.5 L1436.7,315.7 L1468.4,351.9 L1498.0,393.7 L1532.3,438.5 L1563.7,489.7 L1593.9,537.1 L1626.6,591.5 M1395.7,217.4 L1427.4,249.0 L1459.2,286.7 L1491.9,331.6 L1522.6,377.8 L1553.2,418.9 L1588.6,463.5 L1621.4,495.8 L1654.2,537.9 M1415.2,184.6 L1447.9,225.1 L1481.7,269.6 L1515.5,316.1 L1547.2,370.8 L1583.4,404.2 L1614.8,446.0 L1650.2,471.7 L1681.7,498.8 M1335.3,193.0 L1356.8,191.6 L1374.2,186.9 L1395.7,179.8 L1415.2,181.8 M1364.0,245.6 L1384.5,242.2 L1404.9,230.7 L1427.4,216.5 L1447.9,214.8 M1391.6,304.3 L1414.1,297.9 L1436.7,278.6 L1459.2,259.3 L1481.7,251.8 M1421.3,355.5 L1444.8,344.0 L1468.4,323.2 L1491.9,305.2 L1515.5,291.9 M1451.0,410.9 L1476.6,395.9 L1498.0,373.5 L1522.6,352.4 L1547.2,340.1 M1481.1,475.7 L1506.0,459.4 L1532.3,432.4 L1553.2,408.9 L1583.4,390.4 M1510.0,541.0 L1536.2,522.9 L1563.7,497.7 L1588.6,469.1 L1614.8,449.2 M1538.8,625.5 L1566.3,600.0 L1593.9,568.8 L1621.4,532.5 L1650.2,513.5 M1569.0,714.6 L1597.8,686.6 L1626.6,646.8 L1654.2,605.8 L1681.7,579.2 M1335.3,193.0 L1364.0,245.6 L1391.6,304.3 L1421.3,355.5 L1451.0,410.9 L1481.1,475.7 L1510.0,541.0 L1538.8,625.5 L1569.0,714.6 M1356.8,191.6 L1384.5,242.2 L1414.1,297.9 L1444.8,344.0 L1476.6,395.9 L1506.0,459.4 L1536.2,522.9 L1566.3,600.0 L1597.8,686.6 M1374.2,186.9 L1404.9,230.7 L1436.7,278.6 L1468.4,323.2 L1498.0,373.5 L1532.3,432.4 L1563.7,497.7 L1593.9,568.8 L1626.6,646.8 M1395.7,179.8 L1427.4,216.5 L1459.2,259.3 L1491.9,305.2 L1522.6,352.4 L1553.2,408.9 L1588.6,469.1 L1621.4,532.5 L1654.2,605.8 M1415.2,181.8 L1447.9,214.8 L1481.7,251.8 L1515.5,291.9 L1547.2,340.1 L1583.4,390.4 L1614.8,449.2 L1650.2,513.5 L1681.7,579.2 M1335.3,337.8 L1356.8,298.7 L1374.2,256.3 L1395.7,211.5 L1415.2,175.7 M1364.0,349.9 L1384.5,319.1 L1404.9,280.3 L1427.4,238.8 L1447.9,209.7 M1391.6,368.0 L1414.1,344.6 L1436.7,308.4 L1459.2,272.2 L1481.7,247.7 M1421.3,395.6 L1444.8,373.4 L1468.4,341.9 L1491.9,313.2 L1515.5,289.3 M1451.0,427.2 L1476.6,407.9 L1498.0,381.1 L1522.6,355.6 L1547.2,339.0 M1481.1,478.6 L1506.0,457.9 L1532.3,426.4 L1553.2,398.5 L1583.4,375.5 M1510.0,530.5 L1536.2,507.8 L1563.7,478.0 L1588.6,444.9 L1614.8,420.3 M1538.8,604.2 L1566.3,570.2 L1593.9,530.5 L1621.4,485.7 L1650.2,458.1 M1569.0,682.5 L1597.8,642.1 L1626.6,589.8 L1654.2,536.3 L1681.7,497.2 M1335.3,337.8 L1364.0,349.9 L1391.6,368.0 L1421.3,395.6 L1451.0,427.2 L1481.1,478.6 L1510.0,530.5 L1538.8,604.2 L1569.0,682.5 M1356.8,298.7 L1384.5,319.1 L1414.1,344.6 L1444.8,373.4 L1476.6,407.9 L1506.0,457.9 L1536.2,507.8 L1566.3,570.2 L1597.8,642.1 M1374.2,256.3 L1404.9,280.3 L1436.7,308.4 L1468.4,341.9 L1498.0,381.1 L1532.3,426.4 L1563.7,478.0 L1593.9,530.5 L1626.6,589.8 M1395.7,211.5 L1427.4,238.8 L1459.2,272.2 L1491.9,313.2 L1522.6,355.6 L1553.2,398.5 L1588.6,444.9 L1621.4,485.7 L1654.2,536.3 M1415.2,175.7 L1447.9,209.7 L1481.7,247.7 L1515.5,289.3 L1547.2,339.0 L1583.4,375.5 L1614.8,420.3 L1650.2,458.1 L1681.7,497.2 M1335.3,334.8 L1356.8,298.6 L1374.2,259.1 L1395.7,217.2 L1415.2,184.4 M1364.0,347.7 L1384.5,320.4 L1404.9,285.0 L1427.4,246.9 L1447.9,221.3 M1391.6,366.8 L1414.1,347.4 L1436.7,315.1 L1459.2,282.7 L1481.7,262.2 M1421.3,394.9 L1444.8,376.9 L1468.4,349.7 L1491.9,325.3 L1515.5,305.6 M1451.0,427.1 L1476.6,412.3 L1498.0,390.0 L1522.6,369.1 L1547.2,357.1 M1481.1,480.6 L1506.0,467.4 L1532.3,443.5 L1553.2,423.0 L1583.4,407.6 M1510.0,534.7 L1536.2,522.4 L1563.7,503.2 L1588.6,480.6 L1614.8,466.5 M1538.8,609.9 L1566.3,591.9 L1593.9,568.3 L1621.4,539.5 L1650.2,528.0 M1569.0,689.7 L1597.8,670.9 L1626.6,640.2 L1654.2,608.3 L1681.7,590.9 M1335.3,334.8 L1364.0,347.7 L1391.6,366.8 L1421.3,394.9 L1451.0,427.1 L1481.1,480.6 L1510.0,534.7 L1538.8,609.9 L1569.0,689.7 M1356.8,298.6 L1384.5,320.4 L1414.1,347.4 L1444.8,376.9 L1476.6,412.3 L1506.0,467.4 L1536.2,522.4 L1566.3,591.9 L1597.8,670.9 M1374.2,259.1 L1404.9,285.0 L1436.7,315.1 L1468.4,349.7 L1498.0,390.0 L1532.3,443.5 L1563.7,503.2 L1593.9,568.3 L1626.6,640.2 M1395.7,217.2 L1427.4,246.9 L1459.2,282.7 L1491.9,325.3 L1522.6,369.1 L1553.2,423.0 L1588.6,480.6 L1621.4,539.5 L1654.2,608.3 M1415.2,184.4 L1447.9,221.3 L1481.7,262.2 L1515.5,305.6 L1547.2,357.1 L1583.4,407.6 L1614.8,466.5 L1650.2,528.0 L1681.7,590.9 M1335.3,291.9 L1356.8,262.2 L1374.2,229.2 L1395.7,193.8 L1415.2,167.4 M1364.0,312.9 L1384.5,290.2 L1404.9,259.5 L1427.4,226.1 L1447.9,205.1 M1391.6,339.9 L1414.1,323.4 L1436.7,293.9 L1459.2,264.5 L1481.7,246.8 M1421.3,374.9 L1444.8,358.7 L1468.4,333.2 L1491.9,310.5 L1515.5,292.5 M1451.0,414.0 L1476.6,399.8 L1498.0,378.1 L1522.6,357.8 L1547.2,346.3 M1481.1,467.7 L1506.0,452.8 L1532.3,427.2 L1553.2,405.1 L1583.4,387.9 M1510.0,521.9 L1536.2,505.7 L1563.7,482.5 L1588.6,455.9 L1614.8,437.9 M1538.8,598.6 L1566.3,572.5 L1593.9,540.7 L1621.4,503.9 L1650.2,484.3 M1569.0,679.8 L1597.8,648.8 L1626.6,605.8 L1654.2,561.7 L1681.7,532.0 M1335.3,291.9 L1364.0,312.9 L1391.6,339.9 L1421.3,374.9 L1451.0,414.0 L1481.1,467.7 L1510.0,521.9 L1538.8,598.6 L1569.0,679.8 M1356.8,262.2 L1384.5,290.2 L1414.1,323.4 L1444.8,358.7 L1476.6,399.8 L1506.0,452.8 L1536.2,505.7 L1566.3,572.5 L1597.8,648.8 M1374.2,229.2 L1404.9,259.5 L1436.7,293.9 L1468.4,333.2 L1498.0,378.1 L1532.3,427.2 L1563.7,482.5 L1593.9,540.7 L1626.6,605.8 M1395.7,193.8 L1427.4,226.1 L1459.2,264.5 L1491.9,310.5 L1522.6,357.8 L1553.2,405.1 L1588.6,455.9 L1621.4,503.9 L1654.2,561.7 M1415.2,167.4 L1447.9,205.1 L1481.7,246.8 L1515.5,292.5 L1547.2,346.3 L1583.4,387.9 L1614.8,437.9 L1650.2,484.3 L1681.7,532.0 M1335.3,199.3 L1356.8,196.8 L1374.2,191.1 L1395.7,182.9 L1415.2,183.9 M1364.0,254.9 L1384.5,250.4 L1404.9,237.8 L1427.4,222.6 L1447.9,219.8 M1391.6,316.6 L1414.1,309.1 L1436.7,288.7 L1459.2,268.3 L1481.7,259.7 M1421.3,367.0 L1444.8,355.1 L1468.4,334.1 L1491.9,315.8 L1515.5,302.2 M1451.0,421.5 L1476.6,407.0 L1498.0,385.1 L1522.6,364.5 L1547.2,352.8 M1481.1,472.8 L1506.0,457.4 L1532.3,431.2 L1553.2,408.6 L1583.4,391.0 M1510.0,524.6 L1536.2,507.6 L1563.7,483.7 L1588.6,456.4 L1614.8,437.6 M1538.8,598.8 L1566.3,570.7 L1593.9,536.8 L1621.4,497.8 L1650.2,476.1 M1569.0,677.7 L1597.8,643.2 L1626.6,596.8 L1654.2,549.2 L1681.7,516.0 M1335.3,199.3 L1364.0,254.9 L1391.6,316.6 L1421.3,367.0 L1451.0,421.5 L1481.1,472.8 L1510.0,524.6 L1538.8,598.8 L1569.0,677.7 M1356.8,196.8 L1384.5,250.4 L1414.1,309.1 L1444.8,355.1 L1476.6,407.0 L1506.0,457.4 L1536.2,507.6 L1566.3,570.7 L1597.8,643.2 M1374.2,191.1 L1404.9,237.8 L1436.7,288.7 L1468.4,334.1 L1498.0,385.1 L1532.3,431.2 L1563.7,483.7 L1593.9,536.8 L1626.6,596.8 M1395.7,182.9 L1427.4,222.6 L1459.2,268.3 L1491.9,315.8 L1522.6,364.5 L1553.2,408.6 L1588.6,456.4 L1621.4,497.8 L1654.2,549.2 M1415.2,183.9 L1447.9,219.8 L1481.7,259.7 L1515.5,302.2 L1547.2,352.8 L1583.4,391.0 L1614.8,437.6 L1650.2,476.1 L1681.7,516.0 M1335.3,238.1 L1356.8,226.0 L1374.2,210.6 L1395.7,192.8 L1415.2,184.1 M1364.0,285.8 L1384.5,274.1 L1404.9,254.4 L1427.4,231.9 L1447.9,221.9 M1391.6,339.5 L1414.1,327.3 L1436.7,302.2 L1459.2,277.1 L1481.7,263.8 M1421.3,383.6 L1444.8,369.1 L1468.4,345.4 L1491.9,324.3 L1515.5,308.1 M1451.0,431.9 L1476.6,416.7 L1498.0,394.1 L1522.6,372.8 L1547.2,360.5 M1481.1,482.9 L1506.0,467.0 L1532.3,440.5 L1553.2,417.4 L1583.4,399.3 M1510.0,534.4 L1536.2,517.3 L1563.7,493.1 L1588.6,465.5 L1614.8,446.5 M1538.8,607.4 L1566.3,579.3 L1593.9,545.4 L1621.4,506.5 L1650.2,484.8 M1569.0,685.0 L1597.8,650.8 L1626.6,604.7 L1654.2,557.4 L1681.7,524.4 M1335.3,238.1 L1364.0,285.8 L1391.6,339.5 L1421.3,383.6 L1451.0,431.9 L1481.1,482.9 L1510.0,534.4 L1538.8,607.4 L1569.0,685.0 M1356.8,226.0 L1384.5,274.1 L1414.1,327.3 L1444.8,369.1 L1476.6,416.7 L1506.0,467.0 L1536.2,517.3 L1566.3,579.3 L1597.8,650.8 M1374.2,210.6 L1404.9,254.4 L1436.7,302.2 L1468.4,345.4 L1498.0,394.1 L1532.3,440.5 L1563.7,493.1 L1593.9,545.4 L1626.6,604.7 M1395.7,192.8 L1427.4,231.9 L1459.2,277.1 L1491.9,324.3 L1522.6,372.8 L1553.2,417.4 L1588.6,465.5 L1621.4,506.5 L1654.2,557.4 M1415.2,184.1 L1447.9,221.9 L1481.7,263.8 L1515.5,308.1 L1547.2,360.5 L1583.4,399.3 L1614.8,446.5 L1650.2,484.8 L1681.7,524.4 M1335.3,228.2 L1356.8,213.2 L1374.2,194.8 L1395.7,174.0 L1415.2,162.3 M1364.0,262.4 L1384.5,250.0 L1404.9,229.6 L1427.4,206.5 L1447.9,195.8 M1391.6,302.6 L1414.1,292.0 L1436.7,268.5 L1459.2,245.1 L1481.7,233.4 M1421.3,347.8 L1444.8,334.2 L1468.4,311.3 L1491.9,291.2 L1515.5,275.9 M1451.0,397.2 L1476.6,382.2 L1498.0,359.8 L1522.6,338.7 L1547.2,326.5 M1481.1,456.6 L1506.0,441.8 L1532.3,416.2 L1553.2,394.2 L1583.4,377.1 M1510.0,516.6 L1536.2,501.3 L1563.7,478.9 L1588.6,453.2 L1614.8,436.1 M1538.8,598.9 L1566.3,577.6 L1593.9,550.6 L1621.4,518.5 L1650.2,503.7 M1569.0,685.8 L1597.8,663.4 L1626.6,629.1 L1654.2,593.7 L1681.7,572.6 M1335.3,228.2 L1364.0,262.4 L1391.6,302.6 L1421.3,347.8 L1451.0,397.2 L1481.1,456.6 L1510.0,516.6 L1538.8,598.9 L1569.0,685.8 M1356.8,213.2 L1384.5,250.0 L1414.1,292.0 L1444.8,334.2 L1476.6,382.2 L1506.0,441.8 L1536.2,501.3 L1566.3,577.6 L1597.8,663.4 M1374.2,194.8 L1404.9,229.6 L1436.7,268.5 L1468.4,311.3 L1498.0,359.8 L1532.3,416.2 L1563.7,478.9 L1593.9,550.6 L1626.6,629.1 M1395.7,174.0 L1427.4,206.5 L1459.2,245.1 L1491.9,291.2 L1522.6,338.7 L1553.2,394.2 L1588.6,453.2 L1621.4,518.5 L1654.2,593.7 M1415.2,162.3 L1447.9,195.8 L1481.7,233.4 L1515.5,275.9 L1547.2,326.5 L1583.4,377.1 L1614.8,436.1 L1650.2,503.7 L1681.7,572.6 M1335.3,194.6 L1356.8,191.3 L1374.2,184.8 L1395.7,175.8 L1415.2,176.0 M1364.0,252.5 L1384.5,247.0 L1404.9,233.3 L1427.4,217.0 L1447.9,213.1 M1391.6,316.5 L1414.1,307.7 L1436.7,286.0 L1459.2,264.2 L1481.7,254.3 M1421.3,367.7 L1444.8,354.8 L1468.4,332.7 L1491.9,313.3 L1515.5,298.8 M1451.0,423.0 L1476.6,407.7 L1498.0,385.1 L1522.6,363.7 L1547.2,351.3 M1481.1,480.9 L1506.0,463.4 L1532.3,435.2 L1553.2,410.5 L1583.4,390.8 M1510.0,539.3 L1536.2,519.0 L1563.7,491.6 L1588.6,460.9 L1614.8,438.7 M1538.8,617.9 L1566.3,586.0 L1593.9,548.3 L1621.4,505.5 L1650.2,480.1 M1569.0,701.1 L1597.8,662.4 L1626.6,611.9 L1654.2,560.1 L1681.7,522.7 M1335.3,194.6 L1364.0,252.5 L1391.6,316.5 L1421.3,367.7 L1451.0,423.0 L1481.1,480.9 L1510.0,539.3 L1538.8,617.9 L1569.0,701.1 M1356.8,191.3 L1384.5,247.0 L1414.1,307.7 L1444.8,354.8 L1476.6,407.7 L1506.0,463.4 L1536.2,519.0 L1566.3,586.0 L1597.8,662.4 M1374.2,184.8 L1404.9,233.3 L1436.7,286.0 L1468.4,332.7 L1498.0,385.1 L1532.3,435.2 L1563.7,491.6 L1593.9,548.3 L1626.6,611.9 M1395.7,175.8 L1427.4,217.0 L1459.2,264.2 L1491.9,313.3 L1522.6,363.7 L1553.2,410.5 L1588.6,460.9 L1621.4,505.5 L1654.2,560.1 M1415.2,176.0 L1447.9,213.1 L1481.7,254.3 L1515.5,298.8 L1547.2,351.3 L1583.4,390.8 L1614.8,438.7 L1650.2,480.1 L1681.7,522.7 M1335.3,233.4 L1356.8,220.4 L1374.2,204.2 L1395.7,185.6 L1415.2,176.1 M1364.0,281.6 L1384.5,268.5 L1404.9,247.3 L1427.4,223.4 L1447.9,212.0 M1391.6,335.9 L1414.1,321.7 L1436.7,294.5 L1459.2,267.4 L1481.7,252.0 M1421.3,380.8 L1444.8,363.8 L1468.4,337.6 L1491.9,314.1 L1515.5,295.4 M1451.0,429.7 L1476.6,411.7 L1498.0,386.2 L1522.6,362.1 L1547.2,346.8 M1481.1,479.0 L1506.0,460.1 L1532.3,430.5 L1553.2,404.4 L1583.4,383.4 M1510.0,528.8 L1536.2,508.5 L1563.7,481.1 L1588.6,450.4 L1614.8,428.3 M1538.8,600.8 L1566.3,569.3 L1593.9,532.1 L1621.4,489.8 L1650.2,464.8 M1569.0,677.4 L1597.8,639.6 L1626.6,589.9 L1654.2,539.0 L1681.7,502.5 M1335.3,233.4 L1364.0,281.6 L1391.6,335.9 L1421.3,380.8 L1451.0,429.7 L1481.1,479.0 L1510.0,528.8 L1538.8,600.8 L1569.0,677.4 M1356.8,220.4 L1384.5,268.5 L1414.1,321.7 L1444.8,363.8 L1476.6,411.7 L1506.0,460.1 L1536.2,508.5 L1566.3,569.3 L1597.8,639.6 M1374.2,204.2 L1404.9,247.3 L1436.7,294.5 L1468.4,337.6 L1498.0,386.2 L1532.3,430.5 L1563.7,481.1 L1593.9,532.1 L1626.6,589.9 M1395.7,185.6 L1427.4,223.4 L1459.2,267.4 L1491.9,314.1 L1522.6,362.1 L1553.2,404.4 L1588.6,450.4 L1621.4,489.8 L1654.2,539.0 M1415.2,176.1 L1447.9,212.0 L1481.7,252.0 L1515.5,295.4 L1547.2,346.8 L1583.4,383.4 L1614.8,428.3 L1650.2,464.8 L1681.7,502.5 M1335.3,278.1 L1356.8,255.1 L1374.2,228.9 L1395.7,200.3 L1415.2,180.8 M1364.0,308.4 L1384.5,291.7 L1404.9,266.8 L1427.4,239.3 L1447.9,224.2 M1391.6,344.9 L1414.1,333.3 L1436.7,308.8 L1459.2,284.3 L1481.7,271.6 M1421.3,382.3 L1444.8,371.4 L1468.4,351.2 L1491.9,333.8 L1515.5,321.1 M1451.0,423.8 L1476.6,415.2 L1498.0,399.2 L1522.6,384.6 L1547.2,378.8 M1481.1,478.7 L1506.0,467.5 L1532.3,445.7 L1553.2,427.3 L1583.4,414.0 M1510.0,534.0 L1536.2,519.7 L1563.7,498.4 L1588.6,473.7 L1614.8,457.6 M1538.8,610.4 L1566.3,581.7 L1593.9,547.2 L1621.4,507.6 L1650.2,485.4 M1569.0,691.4 L1597.8,653.1 L1626.6,602.9 L1654.2,551.5 L1681.7,514.5 M1335.3,278.1 L1364.0,308.4 L1391.6,344.9 L1421.3,382.3 L1451.0,423.8 L1481.1,478.7 L1510.0,534.0 L1538.8,610.4 L1569.0,691.4 M1356.8,255.1 L1384.5,291.7 L1414.1,333.3 L1444.8,371.4 L1476.6,415.2 L1506.0,467.5 L1536.2,519.7 L1566.3,581.7 L1597.8,653.1 M1374.2,228.9 L1404.9,266.8 L1436.7,308.8 L1468.4,351.2 L1498.0,399.2 L1532.3,445.7 L1563.7,498.4 L1593.9,547.2 L1626.6,602.9 M1395.7,200.3 L1427.4,239.3 L1459.2,284.3 L1491.9,333.8 L1522.6,384.6 L1553.2,427.3 L1588.6,473.7 L1621.4,507.6 L1654.2,551.5 M1415.2,180.8 L1447.9,224.2 L1481.7,271.6 L1515.5,321.1 L1547.2,378.8 L1583.4,414.0 L1614.8,457.6 L1650.2,485.4 L1681.7,514.5 M1335.3,243.4 L1356.8,228.8 L1374.2,210.9 L1395.7,190.6 L1415.2,179.3 M1364.0,285.4 L1384.5,272.7 L1404.9,252.0 L1427.4,228.5 L1447.9,217.6 M1391.6,333.4 L1414.1,321.7 L1436.7,297.2 L1459.2,272.6 L1481.7,259.8 M1421.3,376.6 L1444.8,363.0 L1468.4,340.2 L1491.9,320.1 L1515.5,304.9 M1451.0,423.8 L1476.6,410.0 L1498.0,388.8 L1522.6,369.0 L1547.2,358.0 M1481.1,477.9 L1506.0,462.7 L1532.3,436.9 L1553.2,414.5 L1583.4,397.1 M1510.0,532.5 L1536.2,515.4 L1563.7,491.2 L1588.6,463.6 L1614.8,444.7 M1538.8,608.4 L1566.3,579.8 L1593.9,545.5 L1621.4,506.1 L1650.2,484.0 M1569.0,689.0 L1597.8,653.8 L1626.6,606.7 L1654.2,558.5 L1681.7,524.6 M1335.3,243.4 L1364.0,285.4 L1391.6,333.4 L1421.3,376.6 L1451.0,423.8 L1481.1,477.9 L1510.0,532.5 L1538.8,608.4 L1569.0,689.0 M1356.8,228.8 L1384.5,272.7 L1414.1,321.7 L1444.8,363.0 L1476.6,410.0 L1506.0,462.7 L1536.2,515.4 L1566.3,579.8 L1597.8,653.8 M1374.2,210.9 L1404.9,252.0 L1436.7,297.2 L1468.4,340.2 L1498.0,388.8 L1532.3,436.9 L1563.7,491.2 L1593.9,545.5 L1626.6,606.7 M1395.7,190.6 L1427.4,228.5 L1459.2,272.6 L1491.9,320.1 L1522.6,369.0 L1553.2,414.5 L1588.6,463.6 L1621.4,506.1 L1654.2,558.5 M1415.2,179.3 L1447.9,217.6 L1481.7,259.8 L1515.5,304.9 L1547.2,358.0 L1583.4,397.1 L1614.8,444.7 L1650.2,484.0 L1681.7,524.6 M1335.3,221.6 L1356.8,213.4 L1374.2,201.9 L1395.7,188.0 L1415.2,183.3 M1364.0,275.1 L1384.5,267.2 L1404.9,251.2 L1427.4,232.6 L1447.9,226.4 M1391.6,334.7 L1414.1,326.1 L1436.7,304.7 L1459.2,283.3 L1481.7,273.6 M1421.3,381.5 L1444.8,371.2 L1468.4,351.6 L1491.9,334.8 L1515.5,322.7 M1451.0,432.5 L1476.6,422.0 L1498.0,404.2 L1522.6,387.6 L1547.2,380.0 M1481.1,487.7 L1506.0,474.0 L1532.3,449.6 L1553.2,428.8 L1583.4,412.9 M1510.0,543.4 L1536.2,525.9 L1563.7,501.4 L1588.6,473.5 L1614.8,454.2 M1538.8,619.1 L1566.3,586.1 L1593.9,547.5 L1621.4,503.8 L1650.2,477.3 M1569.0,699.4 L1597.8,655.9 L1626.6,600.5 L1654.2,543.9 L1681.7,501.7 M1335.3,221.6 L1364.0,275.1 L1391.6,334.7 L1421.3,381.5 L1451.0,432.5 L1481.1,487.7 L1510.0,543.4 L1538.8,619.1 L1569.0,699.4 M1356.8,213.4 L1384.5,267.2 L1414.1,326.1 L1444.8,371.2 L1476.6,422.0 L1506.0,474.0 L1536.2,525.9 L1566.3,586.1 L1597.8,655.9 M1374.2,201.9 L1404.9,251.2 L1436.7,304.7 L1468.4,351.6 L1498.0,404.2 L1532.3,449.6 L1563.7,501.4 L1593.9,547.5 L1626.6,600.5 M1395.7,188.0 L1427.4,232.6 L1459.2,283.3 L1491.9,334.8 L1522.6,387.6 L1553.2,428.8 L1588.6,473.5 L1621.4,503.8 L1654.2,543.9 M1415.2,183.3 L1447.9,226.4 L1481.7,273.6 L1515.5,322.7 L1547.2,380.0 L1583.4,412.9 L1614.8,454.2 L1650.2,477.3 L1681.7,501.7 M1335.3,234.0 L1356.8,216.8 L1374.2,196.3 L1395.7,173.4 L1415.2,159.5 M1364.0,283.4 L1384.5,266.0 L1404.9,240.6 L1427.4,212.4 L1447.9,196.8 M1391.6,338.8 L1414.1,320.3 L1436.7,289.0 L1459.2,257.6 L1481.7,238.0 M1421.3,383.6 L1444.8,363.1 L1468.4,333.4 L1491.9,306.4 L1515.5,284.1 M1451.0,432.5 L1476.6,411.6 L1498.0,383.4 L1522.6,356.4 L1547.2,338.3 M1481.1,490.7 L1506.0,467.5 L1532.3,433.6 L1553.2,403.2 L1583.4,377.8 M1510.0,549.3 L1536.2,523.2 L1563.7,490.1 L1588.6,453.6 L1614.8,425.6 M1538.8,627.0 L1566.3,590.1 L1593.9,547.5 L1621.4,499.8 L1650.2,469.4 M1569.0,709.4 L1597.8,666.5 L1626.6,611.8 L1654.2,555.9 L1681.7,514.4 M1335.3,234.0 L1364.0,283.4 L1391.6,338.8 L1421.3,383.6 L1451.0,432.5 L1481.1,490.7 L1510.0,549.3 L1538.8,627.0 L1569.0,709.4 M1356.8,216.8 L1384.5,266.0 L1414.1,320.3 L1444.8,363.1 L1476.6,411.6 L1506.0,467.5 L1536.2,523.2 L1566.3,590.1 L1597.8,666.5 M1374.2,196.3 L1404.9,240.6 L1436.7,289.0 L1468.4,333.4 L1498.0,383.4 L1532.3,433.6 L1563.7,490.1 L1593.9,547.5 L1626.6,611.8 M1395.7,173.4 L1427.4,212.4 L1459.2,257.6 L1491.9,306.4 L1522.6,356.4 L1553.2,403.2 L1588.6,453.6 L1621.4,499.8 L1654.2,555.9 M1415.2,159.5 L1447.9,196.8 L1481.7,238.0 L1515.5,284.1 L1547.2,338.3 L1583.4,377.8 L1614.8,425.6 L1650.2,469.4 L1681.7,514.4 M1335.3,191.9 L1356.8,190.0 L1374.2,184.8 L1395.7,177.3 L1415.2,178.8 M1364.0,247.0 L1384.5,244.8 L1404.9,234.6 L1427.4,221.6 L1447.9,221.2 M1391.6,308.2 L1414.1,304.8 L1436.7,288.4 L1459.2,272.1 L1481.7,267.6 M1421.3,359.7 L1444.8,353.2 L1468.4,337.6 L1491.9,324.6 L1515.5,316.4 M1451.0,415.3 L1476.6,407.5 L1498.0,392.3 L1522.6,378.4 L1547.2,373.4 M1481.1,467.9 L1506.0,461.8 L1532.3,445.0 L1553.2,431.7 L1583.4,423.4 M1510.0,521.0 L1536.2,516.0 L1563.7,504.0 L1588.6,488.6 L1614.8,481.7 M1538.8,596.8 L1566.3,584.9 L1593.9,567.2 L1621.4,544.5 L1650.2,539.1 M1569.0,677.1 L1597.8,663.2 L1626.6,637.4 L1654.2,610.4 L1681.7,597.8 M1335.3,191.9 L1364.0,247.0 L1391.6,308.2 L1421.3,359.7 L1451.0,415.3 L1481.1,467.9 L1510.0,521.0 L1538.8,596.8 L1569.0,677.1 M1356.8,190.0 L1384.5,244.8 L1414.1,304.8 L1444.8,353.2 L1476.6,407.5 L1506.0,461.8 L1536.2,516.0 L1566.3,584.9 L1597.8,663.2 M1374.2,184.8 L1404.9,234.6 L1436.7,288.4 L1468.4,337.6 L1498.0,392.3 L1532.3,445.0 L1563.7,504.0 L1593.9,567.2 L1626.6,637.4 M1395.7,177.3 L1427.4,221.6 L1459.2,272.1 L1491.9,324.6 L1522.6,378.4 L1553.2,431.7 L1588.6,488.6 L1621.4,544.5 L1654.2,610.4 M1415.2,178.8 L1447.9,221.2 L1481.7,267.6 L1515.5,316.4 L1547.2,373.4 L1583.4,423.4 L1614.8,481.7 L1650.2,539.1 L1681.7,597.8 M1335.3,193.9 L1356.8,186.8 L1374.2,176.4 L1395.7,163.6 L1415.2,159.9 M1364.0,254.7 L1384.5,247.2 L1404.9,231.6 L1427.4,213.2 L1447.9,207.4 M1391.6,321.6 L1414.1,312.7 L1436.7,290.8 L1459.2,268.9 L1481.7,258.9 M1421.3,373.0 L1444.8,362.6 L1468.4,343.1 L1491.9,326.2 L1515.5,314.2 M1451.0,428.4 L1476.6,418.4 L1498.0,400.9 L1522.6,384.8 L1547.2,377.5 M1481.1,483.9 L1506.0,475.6 L1532.3,456.6 L1553.2,441.1 L1583.4,430.7 M1510.0,539.8 L1536.2,532.7 L1563.7,518.6 L1588.6,501.1 L1614.8,492.2 M1538.8,616.1 L1566.3,603.2 L1593.9,584.7 L1621.4,561.1 L1650.2,554.8 M1569.0,697.0 L1597.8,683.3 L1626.6,657.8 L1654.2,631.1 L1681.7,618.7 M1335.3,193.9 L1364.0,254.7 L1391.6,321.6 L1421.3,373.0 L1451.0,428.4 L1481.1,483.9 L1510.0,539.8 L1538.8,616.1 L1569.0,697.0 M1356.8,186.8 L1384.5,247.2 L1414.1,312.7 L1444.8,362.6 L1476.6,418.4 L1506.0,475.6 L1536.2,532.7 L1566.3,603.2 L1597.8,683.3 M1374.2,176.4 L1404.9,231.6 L1436.7,290.8 L1468.4,343.1 L1498.0,400.9 L1532.3,456.6 L1563.7,518.6 L1593.9,584.7 L1626.6,657.8 M1395.7,163.6 L1427.4,213.2 L1459.2,268.9 L1491.9,326.2 L1522.6,384.8 L1553.2,441.1 L1588.6,501.1 L1621.4,561.1 L1654.2,631.1 M1415.2,159.9 L1447.9,207.4 L1481.7,258.9 L1515.5,314.2 L1547.2,377.5 L1583.4,430.7 L1614.8,492.2 L1650.2,554.8 L1681.7,618.7 M1335.3,196.8 L1356.8,192.5 L1374.2,184.9 L1395.7,174.9 L1415.2,174.0 M1364.0,258.7 L1384.5,253.2 L1404.9,239.7 L1427.4,223.4 L1447.9,219.7 M1391.6,326.7 L1414.1,319.1 L1436.7,298.5 L1459.2,278.0 L1481.7,269.3 M1421.3,377.6 L1444.8,367.9 L1468.4,349.1 L1491.9,332.9 L1515.5,321.6 M1451.0,432.6 L1476.6,422.6 L1498.0,405.2 L1522.6,389.1 L1547.2,381.9 M1481.1,483.3 L1506.0,474.5 L1532.3,455.0 L1553.2,439.0 L1583.4,428.1 M1510.0,534.4 L1536.2,526.2 L1563.7,511.1 L1588.6,492.6 L1614.8,482.6 M1538.8,607.0 L1566.3,590.5 L1593.9,568.3 L1621.4,541.0 L1650.2,531.0 M1569.0,684.2 L1597.8,664.2 L1626.6,632.4 L1654.2,599.3 L1681.7,580.7 M1335.3,196.8 L1364.0,258.7 L1391.6,326.7 L1421.3,377.6 L1451.0,432.6 L1481.1,483.3 L1510.0,534.4 L1538.8,607.0 L1569.0,684.2 M1356.8,192.5 L1384.5,253.2 L1414.1,319.1 L1444.8,367.9 L1476.6,422.6 L1506.0,474.5 L1536.2,526.2 L1566.3,590.5 L1597.8,664.2 M1374.2,184.9 L1404.9,239.7 L1436.7,298.5 L1468.4,349.1 L1498.0,405.2 L1532.3,455.0 L1563.7,511.1 L1593.9,568.3 L1626.6,632.4 M1395.7,174.9 L1427.4,223.4 L1459.2,278.0 L1491.9,332.9 L1522.6,389.1 L1553.2,439.0 L1588.6,492.6 L1621.4,541.0 L1654.2,599.3 M1415.2,174.0 L1447.9,219.7 L1481.7,269.3 L1515.5,321.6 L1547.2,381.9 L1583.4,428.1 L1614.8,482.6 L1650.2,531.0 L1681.7,580.7 M1335.3,194.2 L1356.8,189.3 L1374.2,181.2 L1395.7,170.7 L1415.2,169.2 M1364.0,251.7 L1384.5,244.5 L1404.9,229.2 L1427.4,211.2 L1447.9,205.8 M1391.6,315.3 L1414.1,304.8 L1436.7,281.3 L1459.2,257.9 L1481.7,246.3 M1421.3,366.5 L1444.8,351.9 L1468.4,328.2 L1491.9,307.1 L1515.5,290.9 M1451.0,421.8 L1476.6,404.9 L1498.0,380.6 L1522.6,357.6 L1547.2,343.5 M1481.1,476.4 L1506.0,457.6 L1532.3,428.0 L1553.2,401.9 L1583.4,380.8 M1510.0,531.6 L1536.2,510.1 L1563.7,481.6 L1588.6,449.7 L1614.8,426.4 M1538.8,608.1 L1566.3,574.8 L1593.9,535.8 L1621.4,491.7 L1650.2,465.0 M1569.0,689.1 L1597.8,649.0 L1626.6,596.9 L1654.2,543.6 L1681.7,504.8 M1335.3,194.2 L1364.0,251.7 L1391.6,315.3 L1421.3,366.5 L1451.0,421.8 L1481.1,476.4 L1510.0,531.6 L1538.8,608.1 L1569.0,689.1 M1356.8,189.3 L1384.5,244.5 L1414.1,304.8 L1444.8,351.9 L1476.6,404.9 L1506.0,457.6 L1536.2,510.1 L1566.3,574.8 L1597.8,649.0 M1374.2,181.2 L1404.9,229.2 L1436.7,281.3 L1468.4,328.2 L1498.0,380.6 L1532.3,428.0 L1563.7,481.6 L1593.9,535.8 L1626.6,596.9 M1395.7,170.7 L1427.4,211.2 L1459.2,257.9 L1491.9,307.1 L1522.6,357.6 L1553.2,401.9 L1588.6,449.7 L1621.4,491.7 L1654.2,543.6 M1415.2,169.2 L1447.9,205.8 L1481.7,246.3 L1515.5,290.9 L1547.2,343.5 L1583.4,380.8 L1614.8,426.4 L1650.2,465.0 L1681.7,504.8 M1335.3,191.4 L1335.3,344.4 M1356.8,178.3 L1356.8,306.1 M1374.2,162.0 L1374.2,264.5 M1395.7,143.2 L1395.7,220.5 M1415.2,133.6 L1415.2,185.6 M1364.0,230.2 L1364.0,357.2 M1384.5,220.2 L1384.5,329.4 M1404.9,202.1 L1404.9,293.6 M1427.4,181.2 L1427.4,255.0 M1447.9,172.9 L1447.9,228.9 M1391.6,275.1 L1391.6,376.1 M1414.1,267.1 L1414.1,357.9 M1436.7,246.2 L1436.7,326.7 M1459.2,225.3 L1459.2,295.5 M1481.7,216.2 L1481.7,276.2 M1421.3,326.2 L1421.3,402.7 M1444.8,315.7 L1444.8,387.7 M1468.4,295.9 L1468.4,363.4 M1491.9,278.9 L1491.9,341.9 M1515.5,266.7 L1515.5,325.2 M1451.0,381.4 L1451.0,433.4 M1476.6,370.1 L1476.6,423.3 M1498.0,351.3 L1498.0,405.8 M1522.6,333.9 L1522.6,389.6 M1547.2,325.3 L1547.2,382.3 M1481.1,441.9 L1481.1,495.4 M1506.0,427.2 L1506.0,485.8 M1532.3,401.9 L1532.3,465.4 M1553.2,380.1 L1553.2,448.6 M1583.4,363.2 L1583.4,436.7 M1510.0,502.9 L1510.0,557.9 M1536.2,484.4 L1536.2,548.1 M1563.7,458.8 L1563.7,531.3 M1588.6,429.8 L1588.6,511.1 M1614.8,409.5 L1614.8,499.5 M1538.8,587.6 L1538.8,638.1 M1566.3,556.4 L1566.3,622.0 M1593.9,519.5 L1593.9,600.2 M1621.4,477.4 L1621.4,573.3 M1650.2,452.7 L1650.2,563.7 M1569.0,676.9 L1569.0,722.9 M1597.8,637.9 L1597.8,705.4 M1626.6,587.0 L1626.6,676.0 M1654.2,534.9 L1654.2,645.4 M1681.7,497.2 L1681.7,629.2" fill="none" stroke="#b857ab" stroke-width="1.75"/>
<path d="M1335.3,232.4 L1356.8,219.1 L1374.2,213.0 L1395.7,202.7 L1415.2,194.6 M1364.0,267.2 L1384.5,257.0 L1404.9,248.8 L1427.4,236.5 L1447.9,229.4 M1391.6,308.1 L1414.1,300.0 L1436.7,288.7 L1459.2,276.4 L1481.7,268.2 M1421.3,355.2 L1444.8,344.0 L1468.4,331.7 L1491.9,321.5 L1515.5,309.2 M1451.0,405.4 L1476.6,393.0 L1498.0,380.8 L1522.6,369.5 L1547.2,360.3 M1481.1,463.9 L1506.0,452.1 L1532.3,436.4 L1553.2,424.6 L1583.4,410.2 M1510.0,522.9 L1536.2,511.1 L1563.7,499.3 L1588.6,484.9 L1614.8,470.5 M1538.8,591.1 L1566.3,575.3 L1593.9,562.2 L1621.4,545.2 L1650.2,534.7 M1569.0,661.9 L1597.8,647.4 L1626.6,633.0 L1654.2,618.6 L1681.7,604.2 M1335.3,232.4 L1364.0,267.2 L1391.6,308.1 L1421.3,355.2 L1451.0,405.4 L1481.1,463.9 L1510.0,522.9 L1538.8,591.1 L1569.0,661.9 M1356.8,219.1 L1384.5,257.0 L1414.1,300.0 L1444.8,344.0 L1476.6,393.0 L1506.0,452.1 L1536.2,511.1 L1566.3,575.3 L1597.8,647.4 M1374.2,213.0 L1404.9,248.8 L1436.7,288.7 L1468.4,331.7 L1498.0,380.8 L1532.3,436.4 L1563.7,499.3 L1593.9,562.2 L1626.6,633.0 M1395.7,202.7 L1427.4,236.5 L1459.2,276.4 L1491.9,321.5 L1522.6,369.5 L1553.2,424.6 L1588.6,484.9 L1621.4,545.2 L1654.2,618.6 M1415.2,194.6 L1447.9,229.4 L1481.7,268.2 L1515.5,309.2 L1547.2,360.3 L1583.4,410.2 L1614.8,470.5 L1650.2,534.7 L1681.7,604.2" fill="none" stroke="#ee1c25" stroke-width="2" stroke-dasharray="3 3"/>
<circle cx="1335.3" cy="232.4" r="2.2" fill="#ee1c25"/><circle cx="1356.8" cy="219.1" r="2.2" fill="#ee1c25"/><circle cx="1374.2" cy="213.0" r="2.2" fill="#ee1c25"/><circle cx="1395.7" cy="202.7" r="2.2" fill="#ee1c25"/><circle cx="1415.2" cy="194.6" r="2.2" fill="#ee1c25"/><circle cx="1364.0" cy="267.2" r="2.2" fill="#ee1c25"/><circle cx="1384.5" cy="257.0" r="2.2" fill="#ee1c25"/><circle cx="1404.9" cy="248.8" r="2.2" fill="#ee1c25"/><circle cx="1427.4" cy="236.5" r="2.2" fill="#ee1c25"/><circle cx="1447.9" cy="229.4" r="2.2" fill="#ee1c25"/><circle cx="1391.6" cy="308.1" r="2.2" fill="#ee1c25"/><circle cx="1414.1" cy="300.0" r="2.2" fill="#ee1c25"/><circle cx="1436.7" cy="288.7" r="2.2" fill="#ee1c25"/><circle cx="1459.2" cy="276.4" r="2.2" fill="#ee1c25"/><circle cx="1481.7" cy="268.2" r="2.2" fill="#ee1c25"/><circle cx="1421.3" cy="355.2" r="2.2" fill="#ee1c25"/><circle cx="1444.8" cy="344.0" r="2.2" fill="#ee1c25"/><circle cx="1468.4" cy="331.7" r="2.2" fill="#ee1c25"/><circle cx="1491.9" cy="321.5" r="2.2" fill="#ee1c25"/><circle cx="1515.5" cy="309.2" r="2.2" fill="#ee1c25"/><circle cx="1451.0" cy="405.4" r="2.2" fill="#ee1c25"/><circle cx="1476.6" cy="393.0" r="2.2" fill="#ee1c25"/><circle cx="1498.0" cy="380.8" r="2.2" fill="#ee1c25"/><circle cx="1522.6" cy="369.5" r="2.2" fill="#ee1c25"/><circle cx="1547.2" cy="360.3" r="2.2" fill="#ee1c25"/><circle cx="1481.1" cy="463.9" r="2.2" fill="#ee1c25"/><circle cx="1506.0" cy="452.1" r="2.2" fill="#ee1c25"/><circle cx="1532.3" cy="436.4" r="2.2" fill="#ee1c25"/><circle cx="1553.2" cy="424.6" r="2.2" fill="#ee1c25"/><circle cx="1583.4" cy="410.2" r="2.2" fill="#ee1c25"/><circle cx="1510.0" cy="522.9" r="2.2" fill="#ee1c25"/><circle cx="1536.2" cy="511.1" r="2.2" fill="#ee1c25"/><circle cx="1563.7" cy="499.3" r="2.2" fill="#ee1c25"/><circle cx="1588.6" cy="484.9" r="2.2" fill="#ee1c25"/><circle cx="1614.8" cy="470.5" r="2.2" fill="#ee1c25"/><circle cx="1538.8" cy="591.1" r="2.2" fill="#ee1c25"/><circle cx="1566.3" cy="575.3" r="2.2" fill="#ee1c25"/><circle cx="1593.9" cy="562.2" r="2.2" fill="#ee1c25"/><circle cx="1621.4" cy="545.2" r="2.2" fill="#ee1c25"/><circle cx="1650.2" cy="534.7" r="2.2" fill="#ee1c25"/><circle cx="1569.0" cy="661.9" r="2.2" fill="#ee1c25"/><circle cx="1597.8" cy="647.4" r="2.2" fill="#ee1c25"/><circle cx="1626.6" cy="633.0" r="2.2" fill="#ee1c25"/><circle cx="1654.2" cy="618.6" r="2.2" fill="#ee1c25"/><circle cx="1681.7" cy="604.2" r="2.2" fill="#ee1c25"/>
<rect x="1690.0" y="147.3" width="168.8" height="69.2" fill="#fff" stroke="#151515" stroke-width="2.6"/>
<line x1="1703.6" y1="167.9" x2="1774.3" y2="167.9" stroke="#ee1c25" stroke-width="2.5"/>
<line x1="1703.6" y1="195.7" x2="1774.3" y2="195.7" stroke="#b857ab" stroke-width="2.5"/>
<text x="1785" y="178.3" class="lg" filter="url(#bl2)" textLength="65" lengthAdjust="spacingAndGlyphs">CTSG</text>
<text x="1785" y="212.5" class="lg" filter="url(#bl2)" textLength="65" lengthAdjust="spacingAndGlyphs">TTSG</text>
<line x1="1859.3" y1="216" x2="1859.3" y2="222" stroke="#151515" stroke-width="2"/>
<path d="M621.1,1025.6 L621.1,1643.1" fill="none" stroke="#151515" stroke-width="2.4"/>
<line x1="621.1" y1="1025.6" x2="629.1" y2="1025.6" stroke="#151515" stroke-width="2.4"/>
<line x1="621.1" y1="1149.1" x2="629.1" y2="1149.1" stroke="#151515" stroke-width="2.4"/>
<line x1="621.1" y1="1272.6" x2="629.1" y2="1272.6" stroke="#151515" stroke-width="2.4"/>
<text x="613.6" y="1032.1" text-anchor="end" class="tk" filter="url(#bl)">10</text>
<text x="613.6" y="1158.1" text-anchor="end" class="tk" filter="url(#bl)">5</text>
<text x="750.6" y="1010.2" class="ti" filter="url(#bl)" textLength="477" lengthAdjust="spacingAndGlyphs">Final Tooth Surface Deviation of Convex Side</text>
<path d="M828.8,1124.0 L850.3,1110.7 L867.7,1104.6 L889.2,1094.3 L908.7,1086.2 M857.5,1158.8 L878.0,1148.6 L898.4,1140.4 L920.9,1128.1 L941.4,1121.0 M885.1,1199.7 L907.6,1191.6 L930.2,1180.3 L952.7,1168.0 L975.2,1159.8 M914.8,1246.8 L938.3,1235.6 L961.9,1223.3 L985.4,1213.1 L1009.0,1200.8 M944.5,1297.0 L970.1,1284.6 L991.5,1272.4 L1016.1,1261.1 L1040.7,1251.9 M974.6,1355.5 L999.5,1343.7 L1025.8,1328.0 L1046.7,1316.2 L1076.9,1301.8 M1003.5,1414.5 L1029.7,1402.7 L1057.2,1390.9 L1082.1,1376.5 L1108.3,1362.1 M1032.3,1482.7 L1059.8,1466.9 L1087.4,1453.8 L1114.9,1436.8 L1143.7,1426.3 M1062.5,1553.5 L1091.3,1539.0 L1120.1,1524.6 L1147.7,1510.2 L1175.2,1495.8 M828.8,1124.0 L857.5,1158.8 L885.1,1199.7 L914.8,1246.8 L944.5,1297.0 L974.6,1355.5 L1003.5,1414.5 L1032.3,1482.7 L1062.5,1553.5 M850.3,1110.7 L878.0,1148.6 L907.6,1191.6 L938.3,1235.6 L970.1,1284.6 L999.5,1343.7 L1029.7,1402.7 L1059.8,1466.9 L1091.3,1539.0 M867.7,1104.6 L898.4,1140.4 L930.2,1180.3 L961.9,1223.3 L991.5,1272.4 L1025.8,1328.0 L1057.2,1390.9 L1087.4,1453.8 L1120.1,1524.6 M889.2,1094.3 L920.9,1128.1 L952.7,1168.0 L985.4,1213.1 L1016.1,1261.1 L1046.7,1316.2 L1082.1,1376.5 L1114.9,1436.8 L1147.7,1510.2 M908.7,1086.2 L941.4,1121.0 L975.2,1159.8 L1009.0,1200.8 L1040.7,1251.9 L1076.9,1301.8 L1108.3,1362.1 L1143.7,1426.3 L1175.2,1495.8" fill="none" stroke="#b857ab" stroke-width="2.2"/>
<path d="M828.8,1124.0 L857.5,1158.8 L885.1,1199.7 L914.8,1246.8 L944.5,1297.0 L974.6,1355.5 L1003.5,1414.5 L1032.3,1482.7 L1062.5,1553.5 M867.7,1104.6 L898.4,1140.4 L930.2,1180.3 L961.9,1223.3 L991.5,1272.4 L1025.8,1328.0 L1057.2,1390.9 L1087.4,1453.8 L1120.1,1524.6 M908.7,1086.2 L941.4,1121.0 L975.2,1159.8 L1009.0,1200.8 L1040.7,1251.9 L1076.9,1301.8 L1108.3,1362.1 L1143.7,1426.3 L1175.2,1495.8" fill="none" stroke="#ee1c25" stroke-width="2.2" stroke-dasharray="14 6"/>
<circle cx="828.8" cy="1124.0" r="2.8" fill="#ee1c25"/><circle cx="850.3" cy="1110.7" r="2.8" fill="#ee1c25"/><circle cx="867.7" cy="1104.6" r="2.8" fill="#ee1c25"/><circle cx="889.2" cy="1094.3" r="2.8" fill="#ee1c25"/><circle cx="908.7" cy="1086.2" r="2.8" fill="#ee1c25"/><circle cx="857.5" cy="1158.8" r="2.8" fill="#ee1c25"/><circle cx="878.0" cy="1148.6" r="2.8" fill="#ee1c25"/><circle cx="898.4" cy="1140.4" r="2.8" fill="#ee1c25"/><circle cx="920.9" cy="1128.1" r="2.8" fill="#ee1c25"/><circle cx="941.4" cy="1121.0" r="2.8" fill="#ee1c25"/><circle cx="885.1" cy="1199.7" r="2.8" fill="#ee1c25"/><circle cx="907.6" cy="1191.6" r="2.8" fill="#ee1c25"/><circle cx="930.2" cy="1180.3" r="2.8" fill="#ee1c25"/><circle cx="952.7" cy="1168.0" r="2.8" fill="#ee1c25"/><circle cx="975.2" cy="1159.8" r="2.8" fill="#ee1c25"/><circle cx="914.8" cy="1246.8" r="2.8" fill="#ee1c25"/><circle cx="938.3" cy="1235.6" r="2.8" fill="#ee1c25"/><circle cx="961.9" cy="1223.3" r="2.8" fill="#ee1c25"/><circle cx="985.4" cy="1213.1" r="2.8" fill="#ee1c25"/><circle cx="1009.0" cy="1200.8" r="2.8" fill="#ee1c25"/><circle cx="944.5" cy="1297.0" r="2.8" fill="#ee1c25"/><circle cx="970.1" cy="1284.6" r="2.8" fill="#ee1c25"/><circle cx="991.5" cy="1272.4" r="2.8" fill="#ee1c25"/><circle cx="1016.1" cy="1261.1" r="2.8" fill="#ee1c25"/><circle cx="1040.7" cy="1251.9" r="2.8" fill="#ee1c25"/><circle cx="974.6" cy="1355.5" r="2.8" fill="#ee1c25"/><circle cx="999.5" cy="1343.7" r="2.8" fill="#ee1c25"/><circle cx="1025.8" cy="1328.0" r="2.8" fill="#ee1c25"/><circle cx="1046.7" cy="1316.2" r="2.8" fill="#ee1c25"/><circle cx="1076.9" cy="1301.8" r="2.8" fill="#ee1c25"/><circle cx="1003.5" cy="1414.5" r="2.8" fill="#ee1c25"/><circle cx="1029.7" cy="1402.7" r="2.8" fill="#ee1c25"/><circle cx="1057.2" cy="1390.9" r="2.8" fill="#ee1c25"/><circle cx="1082.1" cy="1376.5" r="2.8" fill="#ee1c25"/><circle cx="1108.3" cy="1362.1" r="2.8" fill="#ee1c25"/><circle cx="1032.3" cy="1482.7" r="2.8" fill="#ee1c25"/><circle cx="1059.8" cy="1466.9" r="2.8" fill="#ee1c25"/><circle cx="1087.4" cy="1453.8" r="2.8" fill="#ee1c25"/><circle cx="1114.9" cy="1436.8" r="2.8" fill="#ee1c25"/><circle cx="1143.7" cy="1426.3" r="2.8" fill="#ee1c25"/><circle cx="1062.5" cy="1553.5" r="2.8" fill="#ee1c25"/><circle cx="1091.3" cy="1539.0" r="2.8" fill="#ee1c25"/><circle cx="1120.1" cy="1524.6" r="2.8" fill="#ee1c25"/><circle cx="1147.7" cy="1510.2" r="2.8" fill="#ee1c25"/><circle cx="1175.2" cy="1495.8" r="2.8" fill="#ee1c25"/>
<rect x="1184.0" y="1041.0" width="168.8" height="69.9" fill="#fff" stroke="#151515" stroke-width="2.6"/>
<line x1="1197.7" y1="1059.2" x2="1268.4" y2="1059.2" stroke="#ee1c25" stroke-width="2.5"/>
<line x1="1197.7" y1="1090.3" x2="1268.4" y2="1090.3" stroke="#b857ab" stroke-width="2.5"/>
<text x="1279" y="1070" class="lg" filter="url(#bl2)" textLength="65" lengthAdjust="spacingAndGlyphs">CTSG</text>
<text x="1279" y="1103.6" class="lg" filter="url(#bl2)" textLength="65" lengthAdjust="spacingAndGlyphs">TTSG</text>
</svg>
<div class="cap" id="capa" style="left:127px;top:862px;"><b>(a)</b></div>
<div class="cap" id="capa2" style="left:223px;top:862px;">Tooth surface deviation at the beginning</div>
<div class="cap" id="capb" style="left:1073px;top:862px;"><b>(b)</b></div>
<div class="cap" id="capb2" style="left:1166px;top:862px;">Tooth surface deviation during reversing</div>
</body></html>
